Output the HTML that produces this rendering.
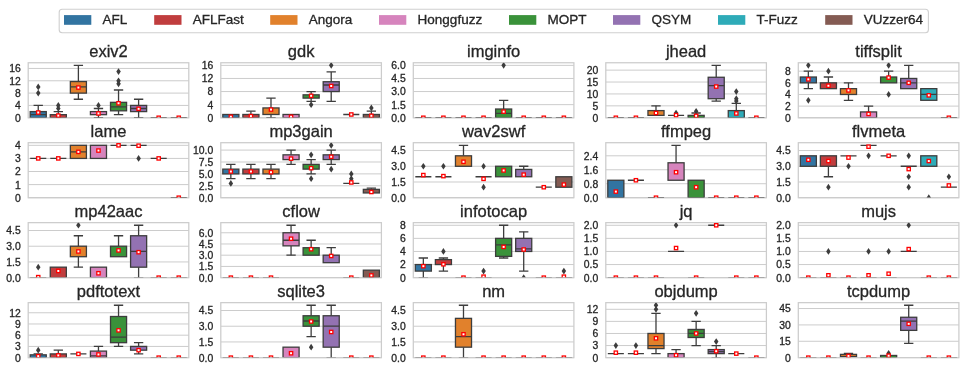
<!DOCTYPE html>
<html><head><meta charset="utf-8"><style>
html,body{margin:0;padding:0;background:#fff;width:969px;height:372px;overflow:hidden}
svg{display:block;will-change:transform;filter:blur(0.3px)}
text{font-family:"Liberation Sans",sans-serif;fill:#262626;stroke:#262626;stroke-width:0.3px}
.tk{font-size:10.4px;text-anchor:end}
.tt{font-size:16.5px;text-anchor:middle}
.lg{font-size:13.5px}
</style></head><body>
<svg width="969" height="372" viewBox="0 0 969 372">
<rect width="969" height="372" fill="#fff"/>
<clipPath id="clip0"><rect x="28.2" y="62.75" width="160.6" height="54.7"/></clipPath>
<line x1="28.2" x2="188.8" y1="117.75" y2="117.75" stroke="#cccccc" stroke-width="1"/>
<text x="20.7" y="121.65" class="tk">0</text>
<line x1="28.2" x2="188.8" y1="105.43" y2="105.43" stroke="#cccccc" stroke-width="1"/>
<text x="20.7" y="109.33" class="tk">4</text>
<line x1="28.2" x2="188.8" y1="93.1" y2="93.1" stroke="#cccccc" stroke-width="1"/>
<text x="20.7" y="97" class="tk">8</text>
<line x1="28.2" x2="188.8" y1="80.78" y2="80.78" stroke="#cccccc" stroke-width="1"/>
<text x="20.7" y="84.68" class="tk">12</text>
<line x1="28.2" x2="188.8" y1="68.45" y2="68.45" stroke="#cccccc" stroke-width="1"/>
<text x="20.7" y="72.35" class="tk">16</text>
<rect x="28.2" y="62.75" width="160.6" height="55" fill="none" stroke="#cccccc" stroke-width="1.25"/>
<text x="108.5" y="56.65" class="tt">exiv2</text>
<g clip-path="url(#clip0)">
<line x1="38.24" x2="38.24" y1="111.59" y2="105.43" stroke="#3d3d3d" stroke-width="1.3"/>
<rect x="30.21" y="111.59" width="16.06" height="6.16" fill="#3274a1" stroke="#3d3d3d" stroke-width="1.3"/>
<line x1="30.21" x2="46.27" y1="114.67" y2="114.67" stroke="#3d3d3d" stroke-width="1.3"/>
<line x1="33.57" x2="42.9" y1="105.42" y2="105.42" stroke="#3d3d3d" stroke-width="1.3"/>
<path d="M38.24 89.75L40.49 93.1L38.24 96.45L35.99 93.1Z" fill="#3d3d3d"/>
<path d="M38.24 83.59L40.49 86.94L38.24 90.29L35.99 86.94Z" fill="#3d3d3d"/>
<rect x="36.59" y="110.86" width="3.3" height="3.3" fill="#fff" stroke="#ff0000" stroke-width="1.3"/>
<line x1="58.31" x2="58.31" y1="114.67" y2="111.59" stroke="#3d3d3d" stroke-width="1.3"/>
<rect x="50.28" y="114.67" width="16.06" height="3.08" fill="#c03d3e" stroke="#3d3d3d" stroke-width="1.3"/>
<line x1="53.65" x2="62.98" y1="111.59" y2="111.59" stroke="#3d3d3d" stroke-width="1.3"/>
<path d="M58.31 105.16L60.56 108.51L58.31 111.86L56.06 108.51Z" fill="#3d3d3d"/>
<path d="M58.31 102.08L60.56 105.43L58.31 108.78L56.06 105.43Z" fill="#3d3d3d"/>
<rect x="56.66" y="113.94" width="3.3" height="3.3" fill="#fff" stroke="#ff0000" stroke-width="1.3"/>
<line x1="78.39" x2="78.39" y1="81.55" y2="65.37" stroke="#3d3d3d" stroke-width="1.3"/>
<line x1="78.39" x2="78.39" y1="93.1" y2="99.26" stroke="#3d3d3d" stroke-width="1.3"/>
<rect x="70.36" y="81.55" width="16.06" height="11.55" fill="#e1812c" stroke="#3d3d3d" stroke-width="1.3"/>
<line x1="70.36" x2="86.42" y1="86.94" y2="86.94" stroke="#3d3d3d" stroke-width="1.3"/>
<line x1="73.72" x2="83.05" y1="65.37" y2="65.37" stroke="#3d3d3d" stroke-width="1.3"/>
<line x1="73.72" x2="83.05" y1="99.26" y2="99.26" stroke="#3d3d3d" stroke-width="1.3"/>
<rect x="76.74" y="85.9" width="3.3" height="3.3" fill="#fff" stroke="#ff0000" stroke-width="1.3"/>
<line x1="98.46" x2="98.46" y1="111.59" y2="108.51" stroke="#3d3d3d" stroke-width="1.3"/>
<line x1="98.46" x2="98.46" y1="114.67" y2="117.75" stroke="#3d3d3d" stroke-width="1.3"/>
<rect x="90.43" y="111.59" width="16.06" height="3.08" fill="#d684bd" stroke="#3d3d3d" stroke-width="1.3"/>
<line x1="93.8" x2="103.13" y1="108.51" y2="108.51" stroke="#3d3d3d" stroke-width="1.3"/>
<line x1="93.8" x2="103.13" y1="117.75" y2="117.75" stroke="#3d3d3d" stroke-width="1.3"/>
<path d="M98.46 102.08L100.71 105.43L98.46 108.78L96.21 105.43Z" fill="#3d3d3d"/>
<rect x="96.81" y="111.79" width="3.3" height="3.3" fill="#fff" stroke="#ff0000" stroke-width="1.3"/>
<line x1="118.54" x2="118.54" y1="102.34" y2="90.02" stroke="#3d3d3d" stroke-width="1.3"/>
<line x1="118.54" x2="118.54" y1="110.82" y2="114.67" stroke="#3d3d3d" stroke-width="1.3"/>
<rect x="110.51" y="102.34" width="16.06" height="8.47" fill="#3a923a" stroke="#3d3d3d" stroke-width="1.3"/>
<line x1="110.51" x2="126.57" y1="106.97" y2="106.97" stroke="#3d3d3d" stroke-width="1.3"/>
<line x1="113.87" x2="123.2" y1="90.02" y2="90.02" stroke="#3d3d3d" stroke-width="1.3"/>
<line x1="113.87" x2="123.2" y1="114.67" y2="114.67" stroke="#3d3d3d" stroke-width="1.3"/>
<path d="M118.54 80.51L120.79 83.86L118.54 87.21L116.29 83.86Z" fill="#3d3d3d"/>
<path d="M118.54 77.43L120.79 80.78L118.54 84.13L116.29 80.78Z" fill="#3d3d3d"/>
<path d="M118.54 68.18L120.79 71.53L118.54 74.88L116.29 71.53Z" fill="#3d3d3d"/>
<rect x="116.89" y="101.62" width="3.3" height="3.3" fill="#fff" stroke="#ff0000" stroke-width="1.3"/>
<line x1="138.61" x2="138.61" y1="105.43" y2="99.26" stroke="#3d3d3d" stroke-width="1.3"/>
<line x1="138.61" x2="138.61" y1="111.59" y2="117.75" stroke="#3d3d3d" stroke-width="1.3"/>
<rect x="130.58" y="105.43" width="16.06" height="6.16" fill="#9372b2" stroke="#3d3d3d" stroke-width="1.3"/>
<line x1="130.58" x2="146.64" y1="108.51" y2="108.51" stroke="#3d3d3d" stroke-width="1.3"/>
<line x1="133.95" x2="143.28" y1="99.26" y2="99.26" stroke="#3d3d3d" stroke-width="1.3"/>
<line x1="133.95" x2="143.28" y1="117.75" y2="117.75" stroke="#3d3d3d" stroke-width="1.3"/>
<rect x="136.96" y="107.16" width="3.3" height="3.3" fill="#fff" stroke="#ff0000" stroke-width="1.3"/>
<line x1="150.66" x2="166.72" y1="117.75" y2="117.75" stroke="#3d3d3d" stroke-width="1.3"/>
<rect x="157.04" y="116.1" width="3.3" height="3.3" fill="#fff" stroke="#ff0000" stroke-width="1.3"/>
<line x1="170.73" x2="186.79" y1="117.75" y2="117.75" stroke="#3d3d3d" stroke-width="1.3"/>
<rect x="177.11" y="116.1" width="3.3" height="3.3" fill="#fff" stroke="#ff0000" stroke-width="1.3"/>
</g>
<clipPath id="clip1"><rect x="220.8" y="62.75" width="160.6" height="54.7"/></clipPath>
<line x1="220.8" x2="381.4" y1="117.75" y2="117.75" stroke="#cccccc" stroke-width="1"/>
<text x="213.3" y="121.65" class="tk">0</text>
<line x1="220.8" x2="381.4" y1="104.65" y2="104.65" stroke="#cccccc" stroke-width="1"/>
<text x="213.3" y="108.55" class="tk">4</text>
<line x1="220.8" x2="381.4" y1="91.56" y2="91.56" stroke="#cccccc" stroke-width="1"/>
<text x="213.3" y="95.46" class="tk">8</text>
<line x1="220.8" x2="381.4" y1="78.46" y2="78.46" stroke="#cccccc" stroke-width="1"/>
<text x="213.3" y="82.36" class="tk">12</text>
<line x1="220.8" x2="381.4" y1="65.37" y2="65.37" stroke="#cccccc" stroke-width="1"/>
<text x="213.3" y="69.27" class="tk">16</text>
<rect x="220.8" y="62.75" width="160.6" height="55" fill="none" stroke="#cccccc" stroke-width="1.25"/>
<text x="301.1" y="56.65" class="tt">gdk</text>
<g clip-path="url(#clip1)">
<rect x="222.81" y="114.48" width="16.06" height="3.27" fill="#3274a1" stroke="#3d3d3d" stroke-width="1.3"/>
<rect x="229.19" y="115.12" width="3.3" height="3.3" fill="#fff" stroke="#ff0000" stroke-width="1.3"/>
<line x1="250.91" x2="250.91" y1="114.48" y2="111.2" stroke="#3d3d3d" stroke-width="1.3"/>
<rect x="242.88" y="114.48" width="16.06" height="3.27" fill="#c03d3e" stroke="#3d3d3d" stroke-width="1.3"/>
<line x1="246.25" x2="255.58" y1="111.2" y2="111.2" stroke="#3d3d3d" stroke-width="1.3"/>
<rect x="249.26" y="114.46" width="3.3" height="3.3" fill="#fff" stroke="#ff0000" stroke-width="1.3"/>
<line x1="270.99" x2="270.99" y1="107.93" y2="98.11" stroke="#3d3d3d" stroke-width="1.3"/>
<line x1="270.99" x2="270.99" y1="114.48" y2="117.75" stroke="#3d3d3d" stroke-width="1.3"/>
<rect x="262.96" y="107.93" width="16.06" height="6.55" fill="#e1812c" stroke="#3d3d3d" stroke-width="1.3"/>
<line x1="266.32" x2="275.65" y1="98.11" y2="98.11" stroke="#3d3d3d" stroke-width="1.3"/>
<line x1="266.32" x2="275.65" y1="117.75" y2="117.75" stroke="#3d3d3d" stroke-width="1.3"/>
<rect x="269.34" y="107.92" width="3.3" height="3.3" fill="#fff" stroke="#ff0000" stroke-width="1.3"/>
<rect x="283.03" y="114.48" width="16.06" height="3.27" fill="#d684bd" stroke="#3d3d3d" stroke-width="1.3"/>
<rect x="289.41" y="115.12" width="3.3" height="3.3" fill="#fff" stroke="#ff0000" stroke-width="1.3"/>
<line x1="311.14" x2="311.14" y1="94.83" y2="91.56" stroke="#3d3d3d" stroke-width="1.3"/>
<line x1="311.14" x2="311.14" y1="98.11" y2="101.38" stroke="#3d3d3d" stroke-width="1.3"/>
<rect x="303.11" y="94.83" width="16.06" height="3.27" fill="#3a923a" stroke="#3d3d3d" stroke-width="1.3"/>
<line x1="306.47" x2="315.8" y1="91.56" y2="91.56" stroke="#3d3d3d" stroke-width="1.3"/>
<line x1="306.47" x2="315.8" y1="101.38" y2="101.38" stroke="#3d3d3d" stroke-width="1.3"/>
<path d="M311.14 101.3L313.39 104.65L311.14 108L308.89 104.65Z" fill="#3d3d3d"/>
<rect x="309.49" y="94.17" width="3.3" height="3.3" fill="#fff" stroke="#ff0000" stroke-width="1.3"/>
<line x1="331.21" x2="331.21" y1="81.74" y2="71.92" stroke="#3d3d3d" stroke-width="1.3"/>
<line x1="331.21" x2="331.21" y1="91.56" y2="101.38" stroke="#3d3d3d" stroke-width="1.3"/>
<rect x="323.18" y="81.74" width="16.06" height="9.82" fill="#9372b2" stroke="#3d3d3d" stroke-width="1.3"/>
<line x1="323.18" x2="339.24" y1="85.01" y2="85.01" stroke="#3d3d3d" stroke-width="1.3"/>
<line x1="326.55" x2="335.88" y1="71.92" y2="71.92" stroke="#3d3d3d" stroke-width="1.3"/>
<line x1="326.55" x2="335.88" y1="101.38" y2="101.38" stroke="#3d3d3d" stroke-width="1.3"/>
<path d="M331.21 62.02L333.46 65.37L331.21 68.72L328.96 65.37Z" fill="#3d3d3d"/>
<rect x="329.56" y="84.34" width="3.3" height="3.3" fill="#fff" stroke="#ff0000" stroke-width="1.3"/>
<line x1="343.26" x2="359.32" y1="114.48" y2="114.48" stroke="#3d3d3d" stroke-width="1.3"/>
<rect x="349.64" y="112.83" width="3.3" height="3.3" fill="#fff" stroke="#ff0000" stroke-width="1.3"/>
<line x1="371.36" x2="371.36" y1="114.48" y2="111.2" stroke="#3d3d3d" stroke-width="1.3"/>
<rect x="363.33" y="114.48" width="16.06" height="3.27" fill="#845b53" stroke="#3d3d3d" stroke-width="1.3"/>
<line x1="366.7" x2="376.03" y1="111.2" y2="111.2" stroke="#3d3d3d" stroke-width="1.3"/>
<path d="M371.36 104.58L373.61 107.93L371.36 111.28L369.11 107.93Z" fill="#3d3d3d"/>
<rect x="369.71" y="114.14" width="3.3" height="3.3" fill="#fff" stroke="#ff0000" stroke-width="1.3"/>
</g>
<clipPath id="clip2"><rect x="413.3" y="62.75" width="160.6" height="54.7"/></clipPath>
<line x1="413.3" x2="573.9" y1="117.75" y2="117.75" stroke="#cccccc" stroke-width="1"/>
<text x="405.8" y="121.65" class="tk">0.0</text>
<line x1="413.3" x2="573.9" y1="104.65" y2="104.65" stroke="#cccccc" stroke-width="1"/>
<text x="405.8" y="108.55" class="tk">1.5</text>
<line x1="413.3" x2="573.9" y1="91.56" y2="91.56" stroke="#cccccc" stroke-width="1"/>
<text x="405.8" y="95.46" class="tk">3.0</text>
<line x1="413.3" x2="573.9" y1="78.46" y2="78.46" stroke="#cccccc" stroke-width="1"/>
<text x="405.8" y="82.36" class="tk">4.5</text>
<line x1="413.3" x2="573.9" y1="65.37" y2="65.37" stroke="#cccccc" stroke-width="1"/>
<text x="405.8" y="69.27" class="tk">6.0</text>
<rect x="413.3" y="62.75" width="160.6" height="55" fill="none" stroke="#cccccc" stroke-width="1.25"/>
<text x="493.6" y="56.65" class="tt">imginfo</text>
<g clip-path="url(#clip2)">
<line x1="415.31" x2="431.37" y1="117.75" y2="117.75" stroke="#3d3d3d" stroke-width="1.3"/>
<rect x="421.69" y="116.1" width="3.3" height="3.3" fill="#fff" stroke="#ff0000" stroke-width="1.3"/>
<line x1="435.38" x2="451.44" y1="117.75" y2="117.75" stroke="#3d3d3d" stroke-width="1.3"/>
<rect x="441.76" y="116.1" width="3.3" height="3.3" fill="#fff" stroke="#ff0000" stroke-width="1.3"/>
<line x1="455.46" x2="471.52" y1="117.75" y2="117.75" stroke="#3d3d3d" stroke-width="1.3"/>
<rect x="461.84" y="116.1" width="3.3" height="3.3" fill="#fff" stroke="#ff0000" stroke-width="1.3"/>
<line x1="475.53" x2="491.59" y1="117.75" y2="117.75" stroke="#3d3d3d" stroke-width="1.3"/>
<rect x="481.91" y="116.1" width="3.3" height="3.3" fill="#fff" stroke="#ff0000" stroke-width="1.3"/>
<line x1="503.64" x2="503.64" y1="109.02" y2="100.29" stroke="#3d3d3d" stroke-width="1.3"/>
<rect x="495.61" y="109.02" width="16.06" height="8.73" fill="#3a923a" stroke="#3d3d3d" stroke-width="1.3"/>
<line x1="495.61" x2="511.67" y1="113.39" y2="113.39" stroke="#3d3d3d" stroke-width="1.3"/>
<line x1="498.97" x2="508.3" y1="100.29" y2="100.29" stroke="#3d3d3d" stroke-width="1.3"/>
<path d="M503.64 62.02L505.89 65.37L503.64 68.72L501.39 65.37Z" fill="#3d3d3d"/>
<rect x="501.99" y="109.99" width="3.3" height="3.3" fill="#fff" stroke="#ff0000" stroke-width="1.3"/>
<line x1="515.68" x2="531.74" y1="117.75" y2="117.75" stroke="#3d3d3d" stroke-width="1.3"/>
<rect x="522.06" y="116.1" width="3.3" height="3.3" fill="#fff" stroke="#ff0000" stroke-width="1.3"/>
<line x1="535.76" x2="551.82" y1="117.75" y2="117.75" stroke="#3d3d3d" stroke-width="1.3"/>
<rect x="542.14" y="116.1" width="3.3" height="3.3" fill="#fff" stroke="#ff0000" stroke-width="1.3"/>
<line x1="555.83" x2="571.89" y1="117.75" y2="117.75" stroke="#3d3d3d" stroke-width="1.3"/>
<rect x="562.21" y="116.1" width="3.3" height="3.3" fill="#fff" stroke="#ff0000" stroke-width="1.3"/>
</g>
<clipPath id="clip3"><rect x="605.8" y="62.75" width="160.6" height="54.7"/></clipPath>
<line x1="605.8" x2="766.4" y1="117.75" y2="117.75" stroke="#cccccc" stroke-width="1"/>
<text x="598.3" y="121.65" class="tk">0</text>
<line x1="605.8" x2="766.4" y1="105.85" y2="105.85" stroke="#cccccc" stroke-width="1"/>
<text x="598.3" y="109.75" class="tk">5</text>
<line x1="605.8" x2="766.4" y1="93.94" y2="93.94" stroke="#cccccc" stroke-width="1"/>
<text x="598.3" y="97.84" class="tk">10</text>
<line x1="605.8" x2="766.4" y1="82.04" y2="82.04" stroke="#cccccc" stroke-width="1"/>
<text x="598.3" y="85.94" class="tk">15</text>
<line x1="605.8" x2="766.4" y1="70.13" y2="70.13" stroke="#cccccc" stroke-width="1"/>
<text x="598.3" y="74.03" class="tk">20</text>
<rect x="605.8" y="62.75" width="160.6" height="55" fill="none" stroke="#cccccc" stroke-width="1.25"/>
<text x="686.1" y="56.65" class="tt">jhead</text>
<g clip-path="url(#clip3)">
<line x1="607.81" x2="623.87" y1="117.75" y2="117.75" stroke="#3d3d3d" stroke-width="1.3"/>
<rect x="614.19" y="116.1" width="3.3" height="3.3" fill="#fff" stroke="#ff0000" stroke-width="1.3"/>
<line x1="627.88" x2="643.94" y1="117.75" y2="117.75" stroke="#3d3d3d" stroke-width="1.3"/>
<rect x="634.26" y="116.1" width="3.3" height="3.3" fill="#fff" stroke="#ff0000" stroke-width="1.3"/>
<line x1="655.99" x2="655.99" y1="110.61" y2="105.85" stroke="#3d3d3d" stroke-width="1.3"/>
<rect x="647.96" y="110.61" width="16.06" height="4.76" fill="#e1812c" stroke="#3d3d3d" stroke-width="1.3"/>
<line x1="651.32" x2="660.65" y1="105.84" y2="105.84" stroke="#3d3d3d" stroke-width="1.3"/>
<rect x="654.34" y="111.34" width="3.3" height="3.3" fill="#fff" stroke="#ff0000" stroke-width="1.3"/>
<line x1="668.03" x2="684.09" y1="115.37" y2="115.37" stroke="#3d3d3d" stroke-width="1.3"/>
<path d="M676.06 109.64L678.31 112.99L676.06 116.34L673.81 112.99Z" fill="#3d3d3d"/>
<rect x="674.41" y="113.5" width="3.3" height="3.3" fill="#fff" stroke="#ff0000" stroke-width="1.3"/>
<line x1="696.14" x2="696.14" y1="115.37" y2="112.99" stroke="#3d3d3d" stroke-width="1.3"/>
<rect x="688.11" y="115.37" width="16.06" height="2.38" fill="#3a923a" stroke="#3d3d3d" stroke-width="1.3"/>
<line x1="691.47" x2="700.8" y1="112.99" y2="112.99" stroke="#3d3d3d" stroke-width="1.3"/>
<path d="M696.14 107.97L698.39 111.32L696.14 114.67L693.89 111.32Z" fill="#3d3d3d"/>
<rect x="694.49" y="114.2" width="3.3" height="3.3" fill="#fff" stroke="#ff0000" stroke-width="1.3"/>
<line x1="716.21" x2="716.21" y1="77.27" y2="65.37" stroke="#3d3d3d" stroke-width="1.3"/>
<line x1="716.21" x2="716.21" y1="98.7" y2="101.08" stroke="#3d3d3d" stroke-width="1.3"/>
<rect x="708.18" y="77.27" width="16.06" height="21.43" fill="#9372b2" stroke="#3d3d3d" stroke-width="1.3"/>
<line x1="708.18" x2="724.24" y1="85.61" y2="85.61" stroke="#3d3d3d" stroke-width="1.3"/>
<line x1="711.55" x2="720.88" y1="65.37" y2="65.37" stroke="#3d3d3d" stroke-width="1.3"/>
<line x1="711.55" x2="720.88" y1="101.08" y2="101.08" stroke="#3d3d3d" stroke-width="1.3"/>
<rect x="714.56" y="84.91" width="3.3" height="3.3" fill="#fff" stroke="#ff0000" stroke-width="1.3"/>
<line x1="736.29" x2="736.29" y1="110.61" y2="103.46" stroke="#3d3d3d" stroke-width="1.3"/>
<rect x="728.26" y="110.61" width="16.06" height="7.14" fill="#2eabb8" stroke="#3d3d3d" stroke-width="1.3"/>
<line x1="731.62" x2="740.95" y1="103.46" y2="103.46" stroke="#3d3d3d" stroke-width="1.3"/>
<path d="M736.29 97.73L738.54 101.08L736.29 104.43L734.04 101.08Z" fill="#3d3d3d"/>
<path d="M736.29 95.35L738.54 98.7L736.29 102.05L734.04 98.7Z" fill="#3d3d3d"/>
<path d="M736.29 88.21L738.54 91.56L736.29 94.91L734.04 91.56Z" fill="#3d3d3d"/>
<rect x="734.64" y="111.81" width="3.3" height="3.3" fill="#fff" stroke="#ff0000" stroke-width="1.3"/>
<line x1="748.33" x2="764.39" y1="117.75" y2="117.75" stroke="#3d3d3d" stroke-width="1.3"/>
<rect x="754.71" y="116.1" width="3.3" height="3.3" fill="#fff" stroke="#ff0000" stroke-width="1.3"/>
</g>
<clipPath id="clip4"><rect x="798.3" y="62.75" width="160.6" height="54.7"/></clipPath>
<line x1="798.3" x2="958.9" y1="117.75" y2="117.75" stroke="#cccccc" stroke-width="1"/>
<text x="790.8" y="121.65" class="tk">0</text>
<line x1="798.3" x2="958.9" y1="106.11" y2="106.11" stroke="#cccccc" stroke-width="1"/>
<text x="790.8" y="110.01" class="tk">2</text>
<line x1="798.3" x2="958.9" y1="94.47" y2="94.47" stroke="#cccccc" stroke-width="1"/>
<text x="790.8" y="98.37" class="tk">4</text>
<line x1="798.3" x2="958.9" y1="82.83" y2="82.83" stroke="#cccccc" stroke-width="1"/>
<text x="790.8" y="86.73" class="tk">6</text>
<line x1="798.3" x2="958.9" y1="71.19" y2="71.19" stroke="#cccccc" stroke-width="1"/>
<text x="790.8" y="75.09" class="tk">8</text>
<rect x="798.3" y="62.75" width="160.6" height="55" fill="none" stroke="#cccccc" stroke-width="1.25"/>
<text x="878.6" y="56.65" class="tt">tiffsplit</text>
<g clip-path="url(#clip4)">
<line x1="808.34" x2="808.34" y1="77.01" y2="71.19" stroke="#3d3d3d" stroke-width="1.3"/>
<line x1="808.34" x2="808.34" y1="82.83" y2="88.65" stroke="#3d3d3d" stroke-width="1.3"/>
<rect x="800.31" y="77.01" width="16.06" height="5.82" fill="#3274a1" stroke="#3d3d3d" stroke-width="1.3"/>
<line x1="803.67" x2="813" y1="71.19" y2="71.19" stroke="#3d3d3d" stroke-width="1.3"/>
<line x1="803.67" x2="813" y1="88.65" y2="88.65" stroke="#3d3d3d" stroke-width="1.3"/>
<path d="M808.34 96.94L810.59 100.29L808.34 103.64L806.09 100.29Z" fill="#3d3d3d"/>
<path d="M808.34 62.02L810.59 65.37L808.34 68.72L806.09 65.37Z" fill="#3d3d3d"/>
<rect x="806.69" y="77.69" width="3.3" height="3.3" fill="#fff" stroke="#ff0000" stroke-width="1.3"/>
<line x1="828.41" x2="828.41" y1="82.83" y2="77.01" stroke="#3d3d3d" stroke-width="1.3"/>
<rect x="820.38" y="82.83" width="16.06" height="5.82" fill="#c03d3e" stroke="#3d3d3d" stroke-width="1.3"/>
<line x1="823.75" x2="833.08" y1="77.01" y2="77.01" stroke="#3d3d3d" stroke-width="1.3"/>
<path d="M828.41 67.84L830.66 71.19L828.41 74.54L826.16 71.19Z" fill="#3d3d3d"/>
<rect x="826.76" y="84.09" width="3.3" height="3.3" fill="#fff" stroke="#ff0000" stroke-width="1.3"/>
<line x1="848.49" x2="848.49" y1="88.65" y2="82.83" stroke="#3d3d3d" stroke-width="1.3"/>
<line x1="848.49" x2="848.49" y1="94.47" y2="100.29" stroke="#3d3d3d" stroke-width="1.3"/>
<rect x="840.46" y="88.65" width="16.06" height="5.82" fill="#e1812c" stroke="#3d3d3d" stroke-width="1.3"/>
<line x1="843.82" x2="853.15" y1="82.83" y2="82.83" stroke="#3d3d3d" stroke-width="1.3"/>
<line x1="843.82" x2="853.15" y1="100.29" y2="100.29" stroke="#3d3d3d" stroke-width="1.3"/>
<rect x="846.84" y="88.75" width="3.3" height="3.3" fill="#fff" stroke="#ff0000" stroke-width="1.3"/>
<line x1="868.56" x2="868.56" y1="111.93" y2="106.11" stroke="#3d3d3d" stroke-width="1.3"/>
<rect x="860.53" y="111.93" width="16.06" height="5.82" fill="#d684bd" stroke="#3d3d3d" stroke-width="1.3"/>
<line x1="863.9" x2="873.23" y1="106.11" y2="106.11" stroke="#3d3d3d" stroke-width="1.3"/>
<rect x="866.91" y="112.26" width="3.3" height="3.3" fill="#fff" stroke="#ff0000" stroke-width="1.3"/>
<line x1="888.64" x2="888.64" y1="77.01" y2="71.19" stroke="#3d3d3d" stroke-width="1.3"/>
<rect x="880.61" y="77.01" width="16.06" height="5.82" fill="#3a923a" stroke="#3d3d3d" stroke-width="1.3"/>
<line x1="883.97" x2="893.3" y1="71.19" y2="71.19" stroke="#3d3d3d" stroke-width="1.3"/>
<path d="M888.64 91.12L890.89 94.47L888.64 97.82L886.39 94.47Z" fill="#3d3d3d"/>
<path d="M888.64 62.02L890.89 65.37L888.64 68.72L886.39 65.37Z" fill="#3d3d3d"/>
<rect x="886.99" y="75.94" width="3.3" height="3.3" fill="#fff" stroke="#ff0000" stroke-width="1.3"/>
<line x1="908.71" x2="908.71" y1="78.46" y2="65.37" stroke="#3d3d3d" stroke-width="1.3"/>
<rect x="900.68" y="78.46" width="16.06" height="10.19" fill="#9372b2" stroke="#3d3d3d" stroke-width="1.3"/>
<line x1="900.68" x2="916.74" y1="82.83" y2="82.83" stroke="#3d3d3d" stroke-width="1.3"/>
<line x1="904.05" x2="913.38" y1="65.37" y2="65.37" stroke="#3d3d3d" stroke-width="1.3"/>
<rect x="907.06" y="81.18" width="3.3" height="3.3" fill="#fff" stroke="#ff0000" stroke-width="1.3"/>
<rect x="920.76" y="88.65" width="16.06" height="11.64" fill="#2eabb8" stroke="#3d3d3d" stroke-width="1.3"/>
<line x1="920.76" x2="936.82" y1="94.47" y2="94.47" stroke="#3d3d3d" stroke-width="1.3"/>
<rect x="927.14" y="93.69" width="3.3" height="3.3" fill="#fff" stroke="#ff0000" stroke-width="1.3"/>
<line x1="940.83" x2="956.89" y1="117.75" y2="117.75" stroke="#3d3d3d" stroke-width="1.3"/>
<rect x="947.21" y="116.1" width="3.3" height="3.3" fill="#fff" stroke="#ff0000" stroke-width="1.3"/>
</g>
<clipPath id="clip5"><rect x="28.2" y="142.7" width="160.6" height="54.7"/></clipPath>
<line x1="28.2" x2="188.8" y1="197.7" y2="197.7" stroke="#cccccc" stroke-width="1"/>
<text x="20.7" y="201.6" class="tk">0</text>
<line x1="28.2" x2="188.8" y1="184.6" y2="184.6" stroke="#cccccc" stroke-width="1"/>
<text x="20.7" y="188.5" class="tk">1</text>
<line x1="28.2" x2="188.8" y1="171.51" y2="171.51" stroke="#cccccc" stroke-width="1"/>
<text x="20.7" y="175.41" class="tk">2</text>
<line x1="28.2" x2="188.8" y1="158.41" y2="158.41" stroke="#cccccc" stroke-width="1"/>
<text x="20.7" y="162.31" class="tk">3</text>
<line x1="28.2" x2="188.8" y1="145.32" y2="145.32" stroke="#cccccc" stroke-width="1"/>
<text x="20.7" y="149.22" class="tk">4</text>
<rect x="28.2" y="142.7" width="160.6" height="55" fill="none" stroke="#cccccc" stroke-width="1.25"/>
<text x="108.5" y="136.6" class="tt">lame</text>
<g clip-path="url(#clip5)">
<line x1="30.21" x2="46.27" y1="158.41" y2="158.41" stroke="#3d3d3d" stroke-width="1.3"/>
<rect x="36.59" y="156.76" width="3.3" height="3.3" fill="#fff" stroke="#ff0000" stroke-width="1.3"/>
<line x1="50.28" x2="66.34" y1="158.41" y2="158.41" stroke="#3d3d3d" stroke-width="1.3"/>
<rect x="56.66" y="156.76" width="3.3" height="3.3" fill="#fff" stroke="#ff0000" stroke-width="1.3"/>
<rect x="70.36" y="145.32" width="16.06" height="13.1" fill="#e1812c" stroke="#3d3d3d" stroke-width="1.3"/>
<line x1="70.36" x2="86.42" y1="151.87" y2="151.87" stroke="#3d3d3d" stroke-width="1.3"/>
<rect x="76.74" y="150.22" width="3.3" height="3.3" fill="#fff" stroke="#ff0000" stroke-width="1.3"/>
<rect x="90.43" y="145.32" width="16.06" height="13.1" fill="#d684bd" stroke="#3d3d3d" stroke-width="1.3"/>
<rect x="96.81" y="148.91" width="3.3" height="3.3" fill="#fff" stroke="#ff0000" stroke-width="1.3"/>
<line x1="110.51" x2="126.57" y1="145.32" y2="145.32" stroke="#3d3d3d" stroke-width="1.3"/>
<rect x="116.89" y="143.67" width="3.3" height="3.3" fill="#fff" stroke="#ff0000" stroke-width="1.3"/>
<line x1="130.58" x2="146.64" y1="145.32" y2="145.32" stroke="#3d3d3d" stroke-width="1.3"/>
<path d="M138.61 155.06L140.86 158.41L138.61 161.76L136.36 158.41Z" fill="#3d3d3d"/>
<rect x="136.96" y="144.06" width="3.3" height="3.3" fill="#fff" stroke="#ff0000" stroke-width="1.3"/>
<line x1="150.66" x2="166.72" y1="158.41" y2="158.41" stroke="#3d3d3d" stroke-width="1.3"/>
<rect x="157.04" y="156.76" width="3.3" height="3.3" fill="#fff" stroke="#ff0000" stroke-width="1.3"/>
<line x1="170.73" x2="186.79" y1="197.7" y2="197.7" stroke="#3d3d3d" stroke-width="1.3"/>
<rect x="177.11" y="196.05" width="3.3" height="3.3" fill="#fff" stroke="#ff0000" stroke-width="1.3"/>
</g>
<clipPath id="clip6"><rect x="220.8" y="142.7" width="160.6" height="54.7"/></clipPath>
<line x1="220.8" x2="381.4" y1="197.7" y2="197.7" stroke="#cccccc" stroke-width="1"/>
<text x="213.3" y="201.6" class="tk">0.0</text>
<line x1="220.8" x2="381.4" y1="185.8" y2="185.8" stroke="#cccccc" stroke-width="1"/>
<text x="213.3" y="189.7" class="tk">2.5</text>
<line x1="220.8" x2="381.4" y1="173.89" y2="173.89" stroke="#cccccc" stroke-width="1"/>
<text x="213.3" y="177.79" class="tk">5.0</text>
<line x1="220.8" x2="381.4" y1="161.99" y2="161.99" stroke="#cccccc" stroke-width="1"/>
<text x="213.3" y="165.89" class="tk">7.5</text>
<line x1="220.8" x2="381.4" y1="150.08" y2="150.08" stroke="#cccccc" stroke-width="1"/>
<text x="213.3" y="153.98" class="tk">10.0</text>
<rect x="220.8" y="142.7" width="160.6" height="55" fill="none" stroke="#cccccc" stroke-width="1.25"/>
<text x="301.1" y="136.6" class="tt">mp3gain</text>
<g clip-path="url(#clip6)">
<line x1="230.84" x2="230.84" y1="169.13" y2="164.37" stroke="#3d3d3d" stroke-width="1.3"/>
<line x1="230.84" x2="230.84" y1="173.89" y2="178.65" stroke="#3d3d3d" stroke-width="1.3"/>
<rect x="222.81" y="169.13" width="16.06" height="4.76" fill="#3274a1" stroke="#3d3d3d" stroke-width="1.3"/>
<line x1="226.17" x2="235.5" y1="164.37" y2="164.37" stroke="#3d3d3d" stroke-width="1.3"/>
<line x1="226.17" x2="235.5" y1="178.65" y2="178.65" stroke="#3d3d3d" stroke-width="1.3"/>
<path d="M230.84 180.06L233.09 183.41L230.84 186.76L228.59 183.41Z" fill="#3d3d3d"/>
<rect x="229.19" y="169.86" width="3.3" height="3.3" fill="#fff" stroke="#ff0000" stroke-width="1.3"/>
<line x1="250.91" x2="250.91" y1="169.13" y2="164.37" stroke="#3d3d3d" stroke-width="1.3"/>
<line x1="250.91" x2="250.91" y1="173.89" y2="178.65" stroke="#3d3d3d" stroke-width="1.3"/>
<rect x="242.88" y="169.13" width="16.06" height="4.76" fill="#c03d3e" stroke="#3d3d3d" stroke-width="1.3"/>
<line x1="246.25" x2="255.58" y1="164.37" y2="164.37" stroke="#3d3d3d" stroke-width="1.3"/>
<line x1="246.25" x2="255.58" y1="178.65" y2="178.65" stroke="#3d3d3d" stroke-width="1.3"/>
<rect x="249.26" y="169.86" width="3.3" height="3.3" fill="#fff" stroke="#ff0000" stroke-width="1.3"/>
<line x1="270.99" x2="270.99" y1="169.13" y2="164.37" stroke="#3d3d3d" stroke-width="1.3"/>
<line x1="270.99" x2="270.99" y1="173.89" y2="178.65" stroke="#3d3d3d" stroke-width="1.3"/>
<rect x="262.96" y="169.13" width="16.06" height="4.76" fill="#e1812c" stroke="#3d3d3d" stroke-width="1.3"/>
<line x1="266.32" x2="275.65" y1="164.37" y2="164.37" stroke="#3d3d3d" stroke-width="1.3"/>
<line x1="266.32" x2="275.65" y1="178.65" y2="178.65" stroke="#3d3d3d" stroke-width="1.3"/>
<rect x="269.34" y="170.57" width="3.3" height="3.3" fill="#fff" stroke="#ff0000" stroke-width="1.3"/>
<line x1="291.06" x2="291.06" y1="154.84" y2="150.08" stroke="#3d3d3d" stroke-width="1.3"/>
<line x1="291.06" x2="291.06" y1="159.6" y2="164.37" stroke="#3d3d3d" stroke-width="1.3"/>
<rect x="283.03" y="154.84" width="16.06" height="4.76" fill="#d684bd" stroke="#3d3d3d" stroke-width="1.3"/>
<line x1="286.4" x2="295.73" y1="150.08" y2="150.08" stroke="#3d3d3d" stroke-width="1.3"/>
<line x1="286.4" x2="295.73" y1="164.37" y2="164.37" stroke="#3d3d3d" stroke-width="1.3"/>
<rect x="289.41" y="157" width="3.3" height="3.3" fill="#fff" stroke="#ff0000" stroke-width="1.3"/>
<line x1="311.14" x2="311.14" y1="164.37" y2="159.6" stroke="#3d3d3d" stroke-width="1.3"/>
<line x1="311.14" x2="311.14" y1="169.13" y2="173.89" stroke="#3d3d3d" stroke-width="1.3"/>
<rect x="303.11" y="164.37" width="16.06" height="4.76" fill="#3a923a" stroke="#3d3d3d" stroke-width="1.3"/>
<line x1="306.47" x2="315.8" y1="159.6" y2="159.6" stroke="#3d3d3d" stroke-width="1.3"/>
<line x1="306.47" x2="315.8" y1="173.89" y2="173.89" stroke="#3d3d3d" stroke-width="1.3"/>
<path d="M311.14 175.3L313.39 178.65L311.14 182L308.89 178.65Z" fill="#3d3d3d"/>
<path d="M311.14 151.49L313.39 154.84L311.14 158.19L308.89 154.84Z" fill="#3d3d3d"/>
<rect x="309.49" y="166.53" width="3.3" height="3.3" fill="#fff" stroke="#ff0000" stroke-width="1.3"/>
<line x1="331.21" x2="331.21" y1="154.84" y2="150.08" stroke="#3d3d3d" stroke-width="1.3"/>
<line x1="331.21" x2="331.21" y1="159.6" y2="164.37" stroke="#3d3d3d" stroke-width="1.3"/>
<rect x="323.18" y="154.84" width="16.06" height="4.76" fill="#9372b2" stroke="#3d3d3d" stroke-width="1.3"/>
<line x1="326.55" x2="335.88" y1="150.08" y2="150.08" stroke="#3d3d3d" stroke-width="1.3"/>
<line x1="326.55" x2="335.88" y1="164.37" y2="164.37" stroke="#3d3d3d" stroke-width="1.3"/>
<path d="M331.21 165.78L333.46 169.13L331.21 172.48L328.96 169.13Z" fill="#3d3d3d"/>
<path d="M331.21 141.97L333.46 145.32L331.21 148.67L328.96 145.32Z" fill="#3d3d3d"/>
<rect x="329.56" y="155.1" width="3.3" height="3.3" fill="#fff" stroke="#ff0000" stroke-width="1.3"/>
<line x1="343.26" x2="359.32" y1="183.41" y2="183.41" stroke="#3d3d3d" stroke-width="1.3"/>
<path d="M351.29 175.3L353.54 178.65L351.29 182L349.04 178.65Z" fill="#3d3d3d"/>
<path d="M351.29 170.54L353.54 173.89L351.29 177.24L349.04 173.89Z" fill="#3d3d3d"/>
<rect x="349.64" y="180.81" width="3.3" height="3.3" fill="#fff" stroke="#ff0000" stroke-width="1.3"/>
<line x1="371.36" x2="371.36" y1="189.37" y2="188.18" stroke="#3d3d3d" stroke-width="1.3"/>
<rect x="363.33" y="189.37" width="16.06" height="3.57" fill="#845b53" stroke="#3d3d3d" stroke-width="1.3"/>
<line x1="366.7" x2="376.03" y1="188.18" y2="188.18" stroke="#3d3d3d" stroke-width="1.3"/>
<rect x="369.71" y="190.34" width="3.3" height="3.3" fill="#fff" stroke="#ff0000" stroke-width="1.3"/>
</g>
<clipPath id="clip7"><rect x="413.3" y="142.7" width="160.6" height="54.7"/></clipPath>
<line x1="413.3" x2="573.9" y1="197.7" y2="197.7" stroke="#cccccc" stroke-width="1"/>
<text x="405.8" y="201.6" class="tk">0.0</text>
<line x1="413.3" x2="573.9" y1="181.99" y2="181.99" stroke="#cccccc" stroke-width="1"/>
<text x="405.8" y="185.89" class="tk">1.5</text>
<line x1="413.3" x2="573.9" y1="166.27" y2="166.27" stroke="#cccccc" stroke-width="1"/>
<text x="405.8" y="170.17" class="tk">3.0</text>
<line x1="413.3" x2="573.9" y1="150.56" y2="150.56" stroke="#cccccc" stroke-width="1"/>
<text x="405.8" y="154.46" class="tk">4.5</text>
<rect x="413.3" y="142.7" width="160.6" height="55" fill="none" stroke="#cccccc" stroke-width="1.25"/>
<text x="493.6" y="136.6" class="tt">wav2swf</text>
<g clip-path="url(#clip7)">
<line x1="415.31" x2="431.37" y1="176.75" y2="176.75" stroke="#3d3d3d" stroke-width="1.3"/>
<path d="M423.34 162.92L425.59 166.27L423.34 169.62L421.09 166.27Z" fill="#3d3d3d"/>
<rect x="421.69" y="173.42" width="3.3" height="3.3" fill="#fff" stroke="#ff0000" stroke-width="1.3"/>
<line x1="435.38" x2="451.44" y1="176.75" y2="176.75" stroke="#3d3d3d" stroke-width="1.3"/>
<path d="M443.41 162.92L445.66 166.27L443.41 169.62L441.16 166.27Z" fill="#3d3d3d"/>
<rect x="441.76" y="174.47" width="3.3" height="3.3" fill="#fff" stroke="#ff0000" stroke-width="1.3"/>
<line x1="463.49" x2="463.49" y1="155.8" y2="145.32" stroke="#3d3d3d" stroke-width="1.3"/>
<rect x="455.46" y="155.8" width="16.06" height="10.48" fill="#e1812c" stroke="#3d3d3d" stroke-width="1.3"/>
<line x1="458.82" x2="468.15" y1="145.32" y2="145.32" stroke="#3d3d3d" stroke-width="1.3"/>
<rect x="461.84" y="160.12" width="3.3" height="3.3" fill="#fff" stroke="#ff0000" stroke-width="1.3"/>
<line x1="475.53" x2="491.59" y1="176.75" y2="176.75" stroke="#3d3d3d" stroke-width="1.3"/>
<path d="M483.56 183.87L485.81 187.22L483.56 190.57L481.31 187.22Z" fill="#3d3d3d"/>
<path d="M483.56 162.92L485.81 166.27L483.56 169.62L481.31 166.27Z" fill="#3d3d3d"/>
<rect x="481.91" y="177.19" width="3.3" height="3.3" fill="#fff" stroke="#ff0000" stroke-width="1.3"/>
<rect x="495.61" y="166.27" width="16.06" height="10.48" fill="#3a923a" stroke="#3d3d3d" stroke-width="1.3"/>
<rect x="501.99" y="168.81" width="3.3" height="3.3" fill="#fff" stroke="#ff0000" stroke-width="1.3"/>
<line x1="523.71" x2="523.71" y1="169.41" y2="166.27" stroke="#3d3d3d" stroke-width="1.3"/>
<rect x="515.68" y="169.41" width="16.06" height="7.33" fill="#9372b2" stroke="#3d3d3d" stroke-width="1.3"/>
<line x1="519.05" x2="528.38" y1="166.27" y2="166.27" stroke="#3d3d3d" stroke-width="1.3"/>
<rect x="522.06" y="173" width="3.3" height="3.3" fill="#fff" stroke="#ff0000" stroke-width="1.3"/>
<line x1="535.76" x2="551.82" y1="187.22" y2="187.22" stroke="#3d3d3d" stroke-width="1.3"/>
<rect x="542.14" y="185.57" width="3.3" height="3.3" fill="#fff" stroke="#ff0000" stroke-width="1.3"/>
<rect x="555.83" y="176.75" width="16.06" height="10.48" fill="#845b53" stroke="#3d3d3d" stroke-width="1.3"/>
<rect x="562.21" y="182.95" width="3.3" height="3.3" fill="#fff" stroke="#ff0000" stroke-width="1.3"/>
</g>
<clipPath id="clip8"><rect x="605.8" y="142.7" width="160.6" height="54.7"/></clipPath>
<line x1="605.8" x2="766.4" y1="197.7" y2="197.7" stroke="#cccccc" stroke-width="1"/>
<text x="598.3" y="201.6" class="tk">0.0</text>
<line x1="605.8" x2="766.4" y1="183.73" y2="183.73" stroke="#cccccc" stroke-width="1"/>
<text x="598.3" y="187.63" class="tk">0.8</text>
<line x1="605.8" x2="766.4" y1="169.76" y2="169.76" stroke="#cccccc" stroke-width="1"/>
<text x="598.3" y="173.66" class="tk">1.6</text>
<line x1="605.8" x2="766.4" y1="155.8" y2="155.8" stroke="#cccccc" stroke-width="1"/>
<text x="598.3" y="159.7" class="tk">2.4</text>
<rect x="605.8" y="142.7" width="160.6" height="55" fill="none" stroke="#cccccc" stroke-width="1.25"/>
<text x="686.1" y="136.6" class="tt">ffmpeg</text>
<g clip-path="url(#clip8)">
<rect x="607.81" y="180.24" width="16.06" height="17.46" fill="#3274a1" stroke="#3d3d3d" stroke-width="1.3"/>
<rect x="614.19" y="189.94" width="3.3" height="3.3" fill="#fff" stroke="#ff0000" stroke-width="1.3"/>
<line x1="627.88" x2="643.94" y1="180.24" y2="180.24" stroke="#3d3d3d" stroke-width="1.3"/>
<rect x="634.26" y="178.59" width="3.3" height="3.3" fill="#fff" stroke="#ff0000" stroke-width="1.3"/>
<line x1="647.96" x2="664.02" y1="197.7" y2="197.7" stroke="#3d3d3d" stroke-width="1.3"/>
<rect x="654.34" y="196.05" width="3.3" height="3.3" fill="#fff" stroke="#ff0000" stroke-width="1.3"/>
<line x1="676.06" x2="676.06" y1="162.78" y2="145.32" stroke="#3d3d3d" stroke-width="1.3"/>
<rect x="668.03" y="162.78" width="16.06" height="17.46" fill="#d684bd" stroke="#3d3d3d" stroke-width="1.3"/>
<line x1="671.4" x2="680.73" y1="145.32" y2="145.32" stroke="#3d3d3d" stroke-width="1.3"/>
<rect x="674.41" y="170.56" width="3.3" height="3.3" fill="#fff" stroke="#ff0000" stroke-width="1.3"/>
<rect x="688.11" y="180.24" width="16.06" height="17.46" fill="#3a923a" stroke="#3d3d3d" stroke-width="1.3"/>
<rect x="694.49" y="185.57" width="3.3" height="3.3" fill="#fff" stroke="#ff0000" stroke-width="1.3"/>
<line x1="708.18" x2="724.24" y1="197.7" y2="197.7" stroke="#3d3d3d" stroke-width="1.3"/>
<rect x="714.56" y="196.05" width="3.3" height="3.3" fill="#fff" stroke="#ff0000" stroke-width="1.3"/>
<line x1="728.26" x2="744.32" y1="197.7" y2="197.7" stroke="#3d3d3d" stroke-width="1.3"/>
<rect x="734.64" y="196.05" width="3.3" height="3.3" fill="#fff" stroke="#ff0000" stroke-width="1.3"/>
<line x1="748.33" x2="764.39" y1="197.7" y2="197.7" stroke="#3d3d3d" stroke-width="1.3"/>
<rect x="754.71" y="196.05" width="3.3" height="3.3" fill="#fff" stroke="#ff0000" stroke-width="1.3"/>
</g>
<clipPath id="clip9"><rect x="798.3" y="142.7" width="160.6" height="54.7"/></clipPath>
<line x1="798.3" x2="958.9" y1="197.7" y2="197.7" stroke="#cccccc" stroke-width="1"/>
<text x="790.8" y="201.6" class="tk">0.0</text>
<line x1="798.3" x2="958.9" y1="181.99" y2="181.99" stroke="#cccccc" stroke-width="1"/>
<text x="790.8" y="185.89" class="tk">1.5</text>
<line x1="798.3" x2="958.9" y1="166.27" y2="166.27" stroke="#cccccc" stroke-width="1"/>
<text x="790.8" y="170.17" class="tk">3.0</text>
<line x1="798.3" x2="958.9" y1="150.56" y2="150.56" stroke="#cccccc" stroke-width="1"/>
<text x="790.8" y="154.46" class="tk">4.5</text>
<rect x="798.3" y="142.7" width="160.6" height="55" fill="none" stroke="#cccccc" stroke-width="1.25"/>
<text x="878.6" y="136.6" class="tt">flvmeta</text>
<g clip-path="url(#clip9)">
<rect x="800.31" y="155.8" width="16.06" height="10.48" fill="#3274a1" stroke="#3d3d3d" stroke-width="1.3"/>
<rect x="806.69" y="158.13" width="3.3" height="3.3" fill="#fff" stroke="#ff0000" stroke-width="1.3"/>
<line x1="828.41" x2="828.41" y1="166.27" y2="176.75" stroke="#3d3d3d" stroke-width="1.3"/>
<rect x="820.38" y="155.8" width="16.06" height="10.48" fill="#c03d3e" stroke="#3d3d3d" stroke-width="1.3"/>
<line x1="823.75" x2="833.08" y1="176.75" y2="176.75" stroke="#3d3d3d" stroke-width="1.3"/>
<path d="M828.41 183.87L830.66 187.22L828.41 190.57L826.16 187.22Z" fill="#3d3d3d"/>
<rect x="826.76" y="159.38" width="3.3" height="3.3" fill="#fff" stroke="#ff0000" stroke-width="1.3"/>
<line x1="840.46" x2="856.52" y1="155.79" y2="155.79" stroke="#3d3d3d" stroke-width="1.3"/>
<path d="M848.49 162.92L850.74 166.27L848.49 169.62L846.24 166.27Z" fill="#3d3d3d"/>
<rect x="846.84" y="155.93" width="3.3" height="3.3" fill="#fff" stroke="#ff0000" stroke-width="1.3"/>
<line x1="860.53" x2="876.59" y1="145.32" y2="145.32" stroke="#3d3d3d" stroke-width="1.3"/>
<path d="M868.56 152.45L870.81 155.8L868.56 159.15L866.31 155.8Z" fill="#3d3d3d"/>
<rect x="866.91" y="145.03" width="3.3" height="3.3" fill="#fff" stroke="#ff0000" stroke-width="1.3"/>
<line x1="880.61" x2="896.67" y1="155.79" y2="155.79" stroke="#3d3d3d" stroke-width="1.3"/>
<rect x="886.99" y="154.15" width="3.3" height="3.3" fill="#fff" stroke="#ff0000" stroke-width="1.3"/>
<line x1="900.68" x2="916.74" y1="166.27" y2="166.27" stroke="#3d3d3d" stroke-width="1.3"/>
<path d="M908.71 183.87L910.96 187.22L908.71 190.57L906.46 187.22Z" fill="#3d3d3d"/>
<path d="M908.71 173.4L910.96 176.75L908.71 180.1L906.46 176.75Z" fill="#3d3d3d"/>
<path d="M908.71 152.45L910.96 155.8L908.71 159.15L906.46 155.8Z" fill="#3d3d3d"/>
<rect x="907.06" y="167.45" width="3.3" height="3.3" fill="#fff" stroke="#ff0000" stroke-width="1.3"/>
<rect x="920.76" y="155.8" width="16.06" height="10.48" fill="#2eabb8" stroke="#3d3d3d" stroke-width="1.3"/>
<path d="M928.79 194.35L931.04 197.7L928.79 201.05L926.54 197.7Z" fill="#3d3d3d"/>
<rect x="927.14" y="159.38" width="3.3" height="3.3" fill="#fff" stroke="#ff0000" stroke-width="1.3"/>
<line x1="940.83" x2="956.89" y1="187.22" y2="187.22" stroke="#3d3d3d" stroke-width="1.3"/>
<path d="M948.86 173.4L951.11 176.75L948.86 180.1L946.61 176.75Z" fill="#3d3d3d"/>
<rect x="947.21" y="183.79" width="3.3" height="3.3" fill="#fff" stroke="#ff0000" stroke-width="1.3"/>
</g>
<clipPath id="clip10"><rect x="28.2" y="222.65" width="160.6" height="54.7"/></clipPath>
<line x1="28.2" x2="188.8" y1="277.65" y2="277.65" stroke="#cccccc" stroke-width="1"/>
<text x="20.7" y="281.55" class="tk">0.0</text>
<line x1="28.2" x2="188.8" y1="261.94" y2="261.94" stroke="#cccccc" stroke-width="1"/>
<text x="20.7" y="265.84" class="tk">1.5</text>
<line x1="28.2" x2="188.8" y1="246.22" y2="246.22" stroke="#cccccc" stroke-width="1"/>
<text x="20.7" y="250.12" class="tk">3.0</text>
<line x1="28.2" x2="188.8" y1="230.51" y2="230.51" stroke="#cccccc" stroke-width="1"/>
<text x="20.7" y="234.41" class="tk">4.5</text>
<rect x="28.2" y="222.65" width="160.6" height="55" fill="none" stroke="#cccccc" stroke-width="1.25"/>
<text x="108.5" y="216.55" class="tt">mp42aac</text>
<g clip-path="url(#clip10)">
<line x1="30.21" x2="46.27" y1="277.65" y2="277.65" stroke="#3d3d3d" stroke-width="1.3"/>
<path d="M38.24 263.82L40.49 267.17L38.24 270.52L35.99 267.17Z" fill="#3d3d3d"/>
<rect x="36.59" y="275.48" width="3.3" height="3.3" fill="#fff" stroke="#ff0000" stroke-width="1.3"/>
<rect x="50.28" y="267.17" width="16.06" height="10.48" fill="#c03d3e" stroke="#3d3d3d" stroke-width="1.3"/>
<rect x="56.66" y="269.3" width="3.3" height="3.3" fill="#fff" stroke="#ff0000" stroke-width="1.3"/>
<line x1="78.39" x2="78.39" y1="246.22" y2="235.75" stroke="#3d3d3d" stroke-width="1.3"/>
<line x1="78.39" x2="78.39" y1="256.7" y2="267.17" stroke="#3d3d3d" stroke-width="1.3"/>
<rect x="70.36" y="246.22" width="16.06" height="10.48" fill="#e1812c" stroke="#3d3d3d" stroke-width="1.3"/>
<line x1="73.72" x2="83.05" y1="235.75" y2="235.75" stroke="#3d3d3d" stroke-width="1.3"/>
<line x1="73.72" x2="83.05" y1="267.17" y2="267.17" stroke="#3d3d3d" stroke-width="1.3"/>
<path d="M78.39 221.92L80.64 225.27L78.39 228.62L76.14 225.27Z" fill="#3d3d3d"/>
<rect x="76.74" y="249.81" width="3.3" height="3.3" fill="#fff" stroke="#ff0000" stroke-width="1.3"/>
<rect x="90.43" y="267.17" width="16.06" height="10.48" fill="#d684bd" stroke="#3d3d3d" stroke-width="1.3"/>
<rect x="96.81" y="271.6" width="3.3" height="3.3" fill="#fff" stroke="#ff0000" stroke-width="1.3"/>
<line x1="118.54" x2="118.54" y1="246.22" y2="235.75" stroke="#3d3d3d" stroke-width="1.3"/>
<rect x="110.51" y="246.22" width="16.06" height="10.48" fill="#3a923a" stroke="#3d3d3d" stroke-width="1.3"/>
<line x1="113.87" x2="123.2" y1="235.75" y2="235.75" stroke="#3d3d3d" stroke-width="1.3"/>
<rect x="116.89" y="248.76" width="3.3" height="3.3" fill="#fff" stroke="#ff0000" stroke-width="1.3"/>
<line x1="138.61" x2="138.61" y1="235.75" y2="225.27" stroke="#3d3d3d" stroke-width="1.3"/>
<line x1="138.61" x2="138.61" y1="267.17" y2="277.65" stroke="#3d3d3d" stroke-width="1.3"/>
<rect x="130.58" y="235.75" width="16.06" height="31.43" fill="#9372b2" stroke="#3d3d3d" stroke-width="1.3"/>
<line x1="130.58" x2="146.64" y1="251.46" y2="251.46" stroke="#3d3d3d" stroke-width="1.3"/>
<line x1="133.95" x2="143.28" y1="225.27" y2="225.27" stroke="#3d3d3d" stroke-width="1.3"/>
<line x1="133.95" x2="143.28" y1="277.65" y2="277.65" stroke="#3d3d3d" stroke-width="1.3"/>
<rect x="136.96" y="250.54" width="3.3" height="3.3" fill="#fff" stroke="#ff0000" stroke-width="1.3"/>
<line x1="150.66" x2="166.72" y1="277.65" y2="277.65" stroke="#3d3d3d" stroke-width="1.3"/>
<rect x="157.04" y="276" width="3.3" height="3.3" fill="#fff" stroke="#ff0000" stroke-width="1.3"/>
<line x1="170.73" x2="186.79" y1="277.65" y2="277.65" stroke="#3d3d3d" stroke-width="1.3"/>
<rect x="177.11" y="276" width="3.3" height="3.3" fill="#fff" stroke="#ff0000" stroke-width="1.3"/>
</g>
<clipPath id="clip11"><rect x="220.8" y="222.65" width="160.6" height="54.7"/></clipPath>
<line x1="220.8" x2="381.4" y1="277.65" y2="277.65" stroke="#cccccc" stroke-width="1"/>
<text x="213.3" y="281.55" class="tk">0.0</text>
<line x1="220.8" x2="381.4" y1="266.43" y2="266.43" stroke="#cccccc" stroke-width="1"/>
<text x="213.3" y="270.33" class="tk">1.5</text>
<line x1="220.8" x2="381.4" y1="255.2" y2="255.2" stroke="#cccccc" stroke-width="1"/>
<text x="213.3" y="259.1" class="tk">3.0</text>
<line x1="220.8" x2="381.4" y1="243.98" y2="243.98" stroke="#cccccc" stroke-width="1"/>
<text x="213.3" y="247.88" class="tk">4.5</text>
<line x1="220.8" x2="381.4" y1="232.75" y2="232.75" stroke="#cccccc" stroke-width="1"/>
<text x="213.3" y="236.65" class="tk">6.0</text>
<rect x="220.8" y="222.65" width="160.6" height="55" fill="none" stroke="#cccccc" stroke-width="1.25"/>
<text x="301.1" y="216.55" class="tt">cflow</text>
<g clip-path="url(#clip11)">
<line x1="222.81" x2="238.87" y1="277.65" y2="277.65" stroke="#3d3d3d" stroke-width="1.3"/>
<rect x="229.19" y="276" width="3.3" height="3.3" fill="#fff" stroke="#ff0000" stroke-width="1.3"/>
<line x1="242.88" x2="258.94" y1="277.65" y2="277.65" stroke="#3d3d3d" stroke-width="1.3"/>
<rect x="249.26" y="276" width="3.3" height="3.3" fill="#fff" stroke="#ff0000" stroke-width="1.3"/>
<line x1="262.96" x2="279.02" y1="277.65" y2="277.65" stroke="#3d3d3d" stroke-width="1.3"/>
<rect x="269.34" y="276" width="3.3" height="3.3" fill="#fff" stroke="#ff0000" stroke-width="1.3"/>
<line x1="291.06" x2="291.06" y1="232.75" y2="225.27" stroke="#3d3d3d" stroke-width="1.3"/>
<line x1="291.06" x2="291.06" y1="245.85" y2="255.2" stroke="#3d3d3d" stroke-width="1.3"/>
<rect x="283.03" y="232.75" width="16.06" height="13.1" fill="#d684bd" stroke="#3d3d3d" stroke-width="1.3"/>
<line x1="283.03" x2="299.09" y1="240.24" y2="240.24" stroke="#3d3d3d" stroke-width="1.3"/>
<line x1="286.4" x2="295.73" y1="225.27" y2="225.27" stroke="#3d3d3d" stroke-width="1.3"/>
<line x1="286.4" x2="295.73" y1="255.2" y2="255.2" stroke="#3d3d3d" stroke-width="1.3"/>
<rect x="289.41" y="237.09" width="3.3" height="3.3" fill="#fff" stroke="#ff0000" stroke-width="1.3"/>
<line x1="311.14" x2="311.14" y1="247.72" y2="240.24" stroke="#3d3d3d" stroke-width="1.3"/>
<rect x="303.11" y="247.72" width="16.06" height="7.48" fill="#3a923a" stroke="#3d3d3d" stroke-width="1.3"/>
<line x1="306.47" x2="315.8" y1="240.24" y2="240.24" stroke="#3d3d3d" stroke-width="1.3"/>
<rect x="309.49" y="247.56" width="3.3" height="3.3" fill="#fff" stroke="#ff0000" stroke-width="1.3"/>
<line x1="331.21" x2="331.21" y1="255.2" y2="247.72" stroke="#3d3d3d" stroke-width="1.3"/>
<rect x="323.18" y="255.2" width="16.06" height="7.48" fill="#9372b2" stroke="#3d3d3d" stroke-width="1.3"/>
<line x1="326.55" x2="335.88" y1="247.72" y2="247.72" stroke="#3d3d3d" stroke-width="1.3"/>
<rect x="329.56" y="254.3" width="3.3" height="3.3" fill="#fff" stroke="#ff0000" stroke-width="1.3"/>
<line x1="343.26" x2="359.32" y1="277.65" y2="277.65" stroke="#3d3d3d" stroke-width="1.3"/>
<rect x="349.64" y="276" width="3.3" height="3.3" fill="#fff" stroke="#ff0000" stroke-width="1.3"/>
<rect x="363.33" y="270.17" width="16.06" height="7.48" fill="#845b53" stroke="#3d3d3d" stroke-width="1.3"/>
<rect x="369.71" y="273.76" width="3.3" height="3.3" fill="#fff" stroke="#ff0000" stroke-width="1.3"/>
</g>
<clipPath id="clip12"><rect x="413.3" y="222.65" width="160.6" height="54.7"/></clipPath>
<line x1="413.3" x2="573.9" y1="277.65" y2="277.65" stroke="#cccccc" stroke-width="1"/>
<text x="405.8" y="281.55" class="tk">0</text>
<line x1="413.3" x2="573.9" y1="264.55" y2="264.55" stroke="#cccccc" stroke-width="1"/>
<text x="405.8" y="268.45" class="tk">2</text>
<line x1="413.3" x2="573.9" y1="251.46" y2="251.46" stroke="#cccccc" stroke-width="1"/>
<text x="405.8" y="255.36" class="tk">4</text>
<line x1="413.3" x2="573.9" y1="238.36" y2="238.36" stroke="#cccccc" stroke-width="1"/>
<text x="405.8" y="242.26" class="tk">6</text>
<line x1="413.3" x2="573.9" y1="225.27" y2="225.27" stroke="#cccccc" stroke-width="1"/>
<text x="405.8" y="229.17" class="tk">8</text>
<rect x="413.3" y="222.65" width="160.6" height="55" fill="none" stroke="#cccccc" stroke-width="1.25"/>
<text x="493.6" y="216.55" class="tt">infotocap</text>
<g clip-path="url(#clip12)">
<line x1="423.34" x2="423.34" y1="264.55" y2="258.01" stroke="#3d3d3d" stroke-width="1.3"/>
<line x1="423.34" x2="423.34" y1="271.1" y2="277.65" stroke="#3d3d3d" stroke-width="1.3"/>
<rect x="415.31" y="264.55" width="16.06" height="6.55" fill="#3274a1" stroke="#3d3d3d" stroke-width="1.3"/>
<line x1="418.67" x2="428" y1="258.01" y2="258.01" stroke="#3d3d3d" stroke-width="1.3"/>
<line x1="418.67" x2="428" y1="277.65" y2="277.65" stroke="#3d3d3d" stroke-width="1.3"/>
<rect x="421.69" y="264.54" width="3.3" height="3.3" fill="#fff" stroke="#ff0000" stroke-width="1.3"/>
<line x1="443.41" x2="443.41" y1="259.64" y2="258.01" stroke="#3d3d3d" stroke-width="1.3"/>
<line x1="443.41" x2="443.41" y1="264.55" y2="271.1" stroke="#3d3d3d" stroke-width="1.3"/>
<rect x="435.38" y="259.64" width="16.06" height="4.91" fill="#c03d3e" stroke="#3d3d3d" stroke-width="1.3"/>
<line x1="438.75" x2="448.08" y1="258.01" y2="258.01" stroke="#3d3d3d" stroke-width="1.3"/>
<line x1="438.75" x2="448.08" y1="271.1" y2="271.1" stroke="#3d3d3d" stroke-width="1.3"/>
<path d="M443.41 248.11L445.66 251.46L443.41 254.81L441.16 251.46Z" fill="#3d3d3d"/>
<rect x="441.76" y="262.64" width="3.3" height="3.3" fill="#fff" stroke="#ff0000" stroke-width="1.3"/>
<line x1="455.46" x2="471.52" y1="277.65" y2="277.65" stroke="#3d3d3d" stroke-width="1.3"/>
<rect x="461.84" y="276" width="3.3" height="3.3" fill="#fff" stroke="#ff0000" stroke-width="1.3"/>
<line x1="475.53" x2="491.59" y1="277.65" y2="277.65" stroke="#3d3d3d" stroke-width="1.3"/>
<path d="M483.56 267.75L485.81 271.1L483.56 274.45L481.31 271.1Z" fill="#3d3d3d"/>
<rect x="481.91" y="275.02" width="3.3" height="3.3" fill="#fff" stroke="#ff0000" stroke-width="1.3"/>
<line x1="503.64" x2="503.64" y1="238.36" y2="225.27" stroke="#3d3d3d" stroke-width="1.3"/>
<line x1="503.64" x2="503.64" y1="256.37" y2="258.01" stroke="#3d3d3d" stroke-width="1.3"/>
<rect x="495.61" y="238.36" width="16.06" height="18.01" fill="#3a923a" stroke="#3d3d3d" stroke-width="1.3"/>
<line x1="495.61" x2="511.67" y1="244.91" y2="244.91" stroke="#3d3d3d" stroke-width="1.3"/>
<line x1="498.97" x2="508.3" y1="225.27" y2="225.27" stroke="#3d3d3d" stroke-width="1.3"/>
<line x1="498.97" x2="508.3" y1="258.01" y2="258.01" stroke="#3d3d3d" stroke-width="1.3"/>
<rect x="501.99" y="245.23" width="3.3" height="3.3" fill="#fff" stroke="#ff0000" stroke-width="1.3"/>
<line x1="523.71" x2="523.71" y1="238.36" y2="231.82" stroke="#3d3d3d" stroke-width="1.3"/>
<line x1="523.71" x2="523.71" y1="251.46" y2="271.1" stroke="#3d3d3d" stroke-width="1.3"/>
<rect x="515.68" y="238.36" width="16.06" height="13.1" fill="#9372b2" stroke="#3d3d3d" stroke-width="1.3"/>
<line x1="515.68" x2="531.74" y1="248.84" y2="248.84" stroke="#3d3d3d" stroke-width="1.3"/>
<line x1="519.05" x2="528.38" y1="231.82" y2="231.82" stroke="#3d3d3d" stroke-width="1.3"/>
<line x1="519.05" x2="528.38" y1="271.1" y2="271.1" stroke="#3d3d3d" stroke-width="1.3"/>
<path d="M523.71 274.3L525.96 277.65L523.71 281L521.46 277.65Z" fill="#3d3d3d"/>
<rect x="522.06" y="247.85" width="3.3" height="3.3" fill="#fff" stroke="#ff0000" stroke-width="1.3"/>
<line x1="535.76" x2="551.82" y1="277.65" y2="277.65" stroke="#3d3d3d" stroke-width="1.3"/>
<rect x="542.14" y="276" width="3.3" height="3.3" fill="#fff" stroke="#ff0000" stroke-width="1.3"/>
<line x1="555.83" x2="571.89" y1="277.65" y2="277.65" stroke="#3d3d3d" stroke-width="1.3"/>
<path d="M563.86 267.75L566.11 271.1L563.86 274.45L561.61 271.1Z" fill="#3d3d3d"/>
<rect x="562.21" y="275.02" width="3.3" height="3.3" fill="#fff" stroke="#ff0000" stroke-width="1.3"/>
</g>
<clipPath id="clip13"><rect x="605.8" y="222.65" width="160.6" height="54.7"/></clipPath>
<line x1="605.8" x2="766.4" y1="277.65" y2="277.65" stroke="#cccccc" stroke-width="1"/>
<text x="598.3" y="281.55" class="tk">0.0</text>
<line x1="605.8" x2="766.4" y1="264.55" y2="264.55" stroke="#cccccc" stroke-width="1"/>
<text x="598.3" y="268.45" class="tk">0.5</text>
<line x1="605.8" x2="766.4" y1="251.46" y2="251.46" stroke="#cccccc" stroke-width="1"/>
<text x="598.3" y="255.36" class="tk">1.0</text>
<line x1="605.8" x2="766.4" y1="238.36" y2="238.36" stroke="#cccccc" stroke-width="1"/>
<text x="598.3" y="242.26" class="tk">1.5</text>
<line x1="605.8" x2="766.4" y1="225.27" y2="225.27" stroke="#cccccc" stroke-width="1"/>
<text x="598.3" y="229.17" class="tk">2.0</text>
<rect x="605.8" y="222.65" width="160.6" height="55" fill="none" stroke="#cccccc" stroke-width="1.25"/>
<text x="686.1" y="216.55" class="tt">jq</text>
<g clip-path="url(#clip13)">
<line x1="607.81" x2="623.87" y1="277.65" y2="277.65" stroke="#3d3d3d" stroke-width="1.3"/>
<rect x="614.19" y="276" width="3.3" height="3.3" fill="#fff" stroke="#ff0000" stroke-width="1.3"/>
<line x1="627.88" x2="643.94" y1="277.65" y2="277.65" stroke="#3d3d3d" stroke-width="1.3"/>
<rect x="634.26" y="276" width="3.3" height="3.3" fill="#fff" stroke="#ff0000" stroke-width="1.3"/>
<line x1="647.96" x2="664.02" y1="277.65" y2="277.65" stroke="#3d3d3d" stroke-width="1.3"/>
<rect x="654.34" y="276" width="3.3" height="3.3" fill="#fff" stroke="#ff0000" stroke-width="1.3"/>
<line x1="668.03" x2="684.09" y1="251.46" y2="251.46" stroke="#3d3d3d" stroke-width="1.3"/>
<path d="M676.06 221.92L678.31 225.27L676.06 228.62L673.81 225.27Z" fill="#3d3d3d"/>
<rect x="674.41" y="246.4" width="3.3" height="3.3" fill="#fff" stroke="#ff0000" stroke-width="1.3"/>
<line x1="688.11" x2="704.17" y1="277.65" y2="277.65" stroke="#3d3d3d" stroke-width="1.3"/>
<rect x="694.49" y="276" width="3.3" height="3.3" fill="#fff" stroke="#ff0000" stroke-width="1.3"/>
<line x1="708.18" x2="724.24" y1="225.27" y2="225.27" stroke="#3d3d3d" stroke-width="1.3"/>
<rect x="714.56" y="223.62" width="3.3" height="3.3" fill="#fff" stroke="#ff0000" stroke-width="1.3"/>
<line x1="728.26" x2="744.32" y1="277.65" y2="277.65" stroke="#3d3d3d" stroke-width="1.3"/>
<rect x="734.64" y="276" width="3.3" height="3.3" fill="#fff" stroke="#ff0000" stroke-width="1.3"/>
<line x1="748.33" x2="764.39" y1="277.65" y2="277.65" stroke="#3d3d3d" stroke-width="1.3"/>
<rect x="754.71" y="276" width="3.3" height="3.3" fill="#fff" stroke="#ff0000" stroke-width="1.3"/>
</g>
<clipPath id="clip14"><rect x="798.3" y="222.65" width="160.6" height="54.7"/></clipPath>
<line x1="798.3" x2="958.9" y1="277.65" y2="277.65" stroke="#cccccc" stroke-width="1"/>
<text x="790.8" y="281.55" class="tk">0.0</text>
<line x1="798.3" x2="958.9" y1="264.55" y2="264.55" stroke="#cccccc" stroke-width="1"/>
<text x="790.8" y="268.45" class="tk">0.5</text>
<line x1="798.3" x2="958.9" y1="251.46" y2="251.46" stroke="#cccccc" stroke-width="1"/>
<text x="790.8" y="255.36" class="tk">1.0</text>
<line x1="798.3" x2="958.9" y1="238.36" y2="238.36" stroke="#cccccc" stroke-width="1"/>
<text x="790.8" y="242.26" class="tk">1.5</text>
<line x1="798.3" x2="958.9" y1="225.27" y2="225.27" stroke="#cccccc" stroke-width="1"/>
<text x="790.8" y="229.17" class="tk">2.0</text>
<rect x="798.3" y="222.65" width="160.6" height="55" fill="none" stroke="#cccccc" stroke-width="1.25"/>
<text x="878.6" y="216.55" class="tt">mujs</text>
<g clip-path="url(#clip14)">
<line x1="800.31" x2="816.37" y1="277.65" y2="277.65" stroke="#3d3d3d" stroke-width="1.3"/>
<rect x="806.69" y="276" width="3.3" height="3.3" fill="#fff" stroke="#ff0000" stroke-width="1.3"/>
<line x1="820.38" x2="836.44" y1="277.65" y2="277.65" stroke="#3d3d3d" stroke-width="1.3"/>
<path d="M828.41 248.11L830.66 251.46L828.41 254.81L826.16 251.46Z" fill="#3d3d3d"/>
<rect x="826.76" y="273.64" width="3.3" height="3.3" fill="#fff" stroke="#ff0000" stroke-width="1.3"/>
<line x1="840.46" x2="856.52" y1="277.65" y2="277.65" stroke="#3d3d3d" stroke-width="1.3"/>
<rect x="846.84" y="276" width="3.3" height="3.3" fill="#fff" stroke="#ff0000" stroke-width="1.3"/>
<line x1="860.53" x2="876.59" y1="277.65" y2="277.65" stroke="#3d3d3d" stroke-width="1.3"/>
<path d="M868.56 248.11L870.81 251.46L868.56 254.81L866.31 251.46Z" fill="#3d3d3d"/>
<rect x="866.91" y="273.64" width="3.3" height="3.3" fill="#fff" stroke="#ff0000" stroke-width="1.3"/>
<line x1="880.61" x2="896.67" y1="277.65" y2="277.65" stroke="#3d3d3d" stroke-width="1.3"/>
<path d="M888.64 248.11L890.89 251.46L888.64 254.81L886.39 251.46Z" fill="#3d3d3d"/>
<rect x="886.99" y="272.07" width="3.3" height="3.3" fill="#fff" stroke="#ff0000" stroke-width="1.3"/>
<line x1="900.68" x2="916.74" y1="251.46" y2="251.46" stroke="#3d3d3d" stroke-width="1.3"/>
<path d="M908.71 221.92L910.96 225.27L908.71 228.62L906.46 225.27Z" fill="#3d3d3d"/>
<rect x="907.06" y="247.45" width="3.3" height="3.3" fill="#fff" stroke="#ff0000" stroke-width="1.3"/>
<line x1="920.76" x2="936.82" y1="277.65" y2="277.65" stroke="#3d3d3d" stroke-width="1.3"/>
<rect x="927.14" y="276" width="3.3" height="3.3" fill="#fff" stroke="#ff0000" stroke-width="1.3"/>
<line x1="940.83" x2="956.89" y1="277.65" y2="277.65" stroke="#3d3d3d" stroke-width="1.3"/>
<rect x="947.21" y="276" width="3.3" height="3.3" fill="#fff" stroke="#ff0000" stroke-width="1.3"/>
</g>
<clipPath id="clip15"><rect x="28.2" y="302.65" width="160.6" height="54.7"/></clipPath>
<line x1="28.2" x2="188.8" y1="357.65" y2="357.65" stroke="#cccccc" stroke-width="1"/>
<text x="20.7" y="361.55" class="tk">0</text>
<line x1="28.2" x2="188.8" y1="346.43" y2="346.43" stroke="#cccccc" stroke-width="1"/>
<text x="20.7" y="350.33" class="tk">3</text>
<line x1="28.2" x2="188.8" y1="335.2" y2="335.2" stroke="#cccccc" stroke-width="1"/>
<text x="20.7" y="339.1" class="tk">6</text>
<line x1="28.2" x2="188.8" y1="323.98" y2="323.98" stroke="#cccccc" stroke-width="1"/>
<text x="20.7" y="327.88" class="tk">9</text>
<line x1="28.2" x2="188.8" y1="312.75" y2="312.75" stroke="#cccccc" stroke-width="1"/>
<text x="20.7" y="316.65" class="tk">12</text>
<rect x="28.2" y="302.65" width="160.6" height="55" fill="none" stroke="#cccccc" stroke-width="1.25"/>
<text x="108.5" y="296.55" class="tt">pdftotext</text>
<g clip-path="url(#clip15)">
<line x1="38.24" x2="38.24" y1="354.84" y2="353.91" stroke="#3d3d3d" stroke-width="1.3"/>
<rect x="30.21" y="354.84" width="16.06" height="2.81" fill="#3274a1" stroke="#3d3d3d" stroke-width="1.3"/>
<line x1="33.57" x2="42.9" y1="353.91" y2="353.91" stroke="#3d3d3d" stroke-width="1.3"/>
<path d="M38.24 346.82L40.49 350.17L38.24 353.52L35.99 350.17Z" fill="#3d3d3d"/>
<rect x="36.59" y="354.5" width="3.3" height="3.3" fill="#fff" stroke="#ff0000" stroke-width="1.3"/>
<line x1="58.31" x2="58.31" y1="353.91" y2="350.17" stroke="#3d3d3d" stroke-width="1.3"/>
<rect x="50.28" y="353.91" width="16.06" height="3.74" fill="#c03d3e" stroke="#3d3d3d" stroke-width="1.3"/>
<line x1="53.65" x2="62.98" y1="350.17" y2="350.17" stroke="#3d3d3d" stroke-width="1.3"/>
<rect x="56.66" y="353.76" width="3.3" height="3.3" fill="#fff" stroke="#ff0000" stroke-width="1.3"/>
<line x1="70.36" x2="86.42" y1="353.91" y2="353.91" stroke="#3d3d3d" stroke-width="1.3"/>
<rect x="76.74" y="352.26" width="3.3" height="3.3" fill="#fff" stroke="#ff0000" stroke-width="1.3"/>
<line x1="98.46" x2="98.46" y1="351.1" y2="346.43" stroke="#3d3d3d" stroke-width="1.3"/>
<rect x="90.43" y="351.1" width="16.06" height="6.55" fill="#d684bd" stroke="#3d3d3d" stroke-width="1.3"/>
<line x1="90.43" x2="106.49" y1="355.78" y2="355.78" stroke="#3d3d3d" stroke-width="1.3"/>
<line x1="93.8" x2="103.13" y1="346.43" y2="346.43" stroke="#3d3d3d" stroke-width="1.3"/>
<rect x="96.81" y="352.82" width="3.3" height="3.3" fill="#fff" stroke="#ff0000" stroke-width="1.3"/>
<line x1="118.54" x2="118.54" y1="316.49" y2="305.27" stroke="#3d3d3d" stroke-width="1.3"/>
<line x1="118.54" x2="118.54" y1="342.68" y2="346.43" stroke="#3d3d3d" stroke-width="1.3"/>
<rect x="110.51" y="316.49" width="16.06" height="26.19" fill="#3a923a" stroke="#3d3d3d" stroke-width="1.3"/>
<line x1="110.51" x2="126.57" y1="337.07" y2="337.07" stroke="#3d3d3d" stroke-width="1.3"/>
<line x1="113.87" x2="123.2" y1="305.27" y2="305.27" stroke="#3d3d3d" stroke-width="1.3"/>
<line x1="113.87" x2="123.2" y1="346.43" y2="346.43" stroke="#3d3d3d" stroke-width="1.3"/>
<rect x="116.89" y="328.69" width="3.3" height="3.3" fill="#fff" stroke="#ff0000" stroke-width="1.3"/>
<line x1="138.61" x2="138.61" y1="346.43" y2="342.68" stroke="#3d3d3d" stroke-width="1.3"/>
<line x1="138.61" x2="138.61" y1="350.17" y2="353.91" stroke="#3d3d3d" stroke-width="1.3"/>
<rect x="130.58" y="346.43" width="16.06" height="3.74" fill="#9372b2" stroke="#3d3d3d" stroke-width="1.3"/>
<line x1="133.95" x2="143.28" y1="342.68" y2="342.68" stroke="#3d3d3d" stroke-width="1.3"/>
<line x1="133.95" x2="143.28" y1="353.91" y2="353.91" stroke="#3d3d3d" stroke-width="1.3"/>
<rect x="136.96" y="348.52" width="3.3" height="3.3" fill="#fff" stroke="#ff0000" stroke-width="1.3"/>
<line x1="150.66" x2="166.72" y1="357.65" y2="357.65" stroke="#3d3d3d" stroke-width="1.3"/>
<rect x="157.04" y="356" width="3.3" height="3.3" fill="#fff" stroke="#ff0000" stroke-width="1.3"/>
<line x1="170.73" x2="186.79" y1="357.65" y2="357.65" stroke="#3d3d3d" stroke-width="1.3"/>
<rect x="177.11" y="356" width="3.3" height="3.3" fill="#fff" stroke="#ff0000" stroke-width="1.3"/>
</g>
<clipPath id="clip16"><rect x="220.8" y="302.65" width="160.6" height="54.7"/></clipPath>
<line x1="220.8" x2="381.4" y1="357.65" y2="357.65" stroke="#cccccc" stroke-width="1"/>
<text x="213.3" y="361.55" class="tk">0.0</text>
<line x1="220.8" x2="381.4" y1="341.94" y2="341.94" stroke="#cccccc" stroke-width="1"/>
<text x="213.3" y="345.84" class="tk">1.5</text>
<line x1="220.8" x2="381.4" y1="326.22" y2="326.22" stroke="#cccccc" stroke-width="1"/>
<text x="213.3" y="330.12" class="tk">3.0</text>
<line x1="220.8" x2="381.4" y1="310.51" y2="310.51" stroke="#cccccc" stroke-width="1"/>
<text x="213.3" y="314.41" class="tk">4.5</text>
<rect x="220.8" y="302.65" width="160.6" height="55" fill="none" stroke="#cccccc" stroke-width="1.25"/>
<text x="301.1" y="296.55" class="tt">sqlite3</text>
<g clip-path="url(#clip16)">
<line x1="222.81" x2="238.87" y1="357.65" y2="357.65" stroke="#3d3d3d" stroke-width="1.3"/>
<rect x="229.19" y="356" width="3.3" height="3.3" fill="#fff" stroke="#ff0000" stroke-width="1.3"/>
<line x1="242.88" x2="258.94" y1="357.65" y2="357.65" stroke="#3d3d3d" stroke-width="1.3"/>
<rect x="249.26" y="356" width="3.3" height="3.3" fill="#fff" stroke="#ff0000" stroke-width="1.3"/>
<line x1="262.96" x2="279.02" y1="357.65" y2="357.65" stroke="#3d3d3d" stroke-width="1.3"/>
<rect x="269.34" y="356" width="3.3" height="3.3" fill="#fff" stroke="#ff0000" stroke-width="1.3"/>
<rect x="283.03" y="347.17" width="16.06" height="10.48" fill="#d684bd" stroke="#3d3d3d" stroke-width="1.3"/>
<rect x="289.41" y="351.6" width="3.3" height="3.3" fill="#fff" stroke="#ff0000" stroke-width="1.3"/>
<line x1="311.14" x2="311.14" y1="315.75" y2="305.27" stroke="#3d3d3d" stroke-width="1.3"/>
<line x1="311.14" x2="311.14" y1="326.22" y2="336.7" stroke="#3d3d3d" stroke-width="1.3"/>
<rect x="303.11" y="315.75" width="16.06" height="10.48" fill="#3a923a" stroke="#3d3d3d" stroke-width="1.3"/>
<line x1="303.11" x2="319.17" y1="320.98" y2="320.98" stroke="#3d3d3d" stroke-width="1.3"/>
<line x1="306.47" x2="315.8" y1="305.27" y2="305.27" stroke="#3d3d3d" stroke-width="1.3"/>
<line x1="306.47" x2="315.8" y1="336.7" y2="336.7" stroke="#3d3d3d" stroke-width="1.3"/>
<path d="M311.14 343.82L313.39 347.17L311.14 350.52L308.89 347.17Z" fill="#3d3d3d"/>
<rect x="309.49" y="319.86" width="3.3" height="3.3" fill="#fff" stroke="#ff0000" stroke-width="1.3"/>
<line x1="331.21" x2="331.21" y1="315.75" y2="305.27" stroke="#3d3d3d" stroke-width="1.3"/>
<line x1="331.21" x2="331.21" y1="347.17" y2="357.65" stroke="#3d3d3d" stroke-width="1.3"/>
<rect x="323.18" y="315.75" width="16.06" height="31.43" fill="#9372b2" stroke="#3d3d3d" stroke-width="1.3"/>
<line x1="323.18" x2="339.24" y1="326.22" y2="326.22" stroke="#3d3d3d" stroke-width="1.3"/>
<line x1="326.55" x2="335.88" y1="305.27" y2="305.27" stroke="#3d3d3d" stroke-width="1.3"/>
<line x1="326.55" x2="335.88" y1="357.65" y2="357.65" stroke="#3d3d3d" stroke-width="1.3"/>
<rect x="329.56" y="330.33" width="3.3" height="3.3" fill="#fff" stroke="#ff0000" stroke-width="1.3"/>
<line x1="343.26" x2="359.32" y1="357.65" y2="357.65" stroke="#3d3d3d" stroke-width="1.3"/>
<rect x="349.64" y="356" width="3.3" height="3.3" fill="#fff" stroke="#ff0000" stroke-width="1.3"/>
<line x1="363.33" x2="379.39" y1="357.65" y2="357.65" stroke="#3d3d3d" stroke-width="1.3"/>
<rect x="369.71" y="356" width="3.3" height="3.3" fill="#fff" stroke="#ff0000" stroke-width="1.3"/>
</g>
<clipPath id="clip17"><rect x="413.3" y="302.65" width="160.6" height="54.7"/></clipPath>
<line x1="413.3" x2="573.9" y1="357.65" y2="357.65" stroke="#cccccc" stroke-width="1"/>
<text x="405.8" y="361.55" class="tk">0.0</text>
<line x1="413.3" x2="573.9" y1="341.94" y2="341.94" stroke="#cccccc" stroke-width="1"/>
<text x="405.8" y="345.84" class="tk">1.5</text>
<line x1="413.3" x2="573.9" y1="326.22" y2="326.22" stroke="#cccccc" stroke-width="1"/>
<text x="405.8" y="330.12" class="tk">3.0</text>
<line x1="413.3" x2="573.9" y1="310.51" y2="310.51" stroke="#cccccc" stroke-width="1"/>
<text x="405.8" y="314.41" class="tk">4.5</text>
<rect x="413.3" y="302.65" width="160.6" height="55" fill="none" stroke="#cccccc" stroke-width="1.25"/>
<text x="493.6" y="296.55" class="tt">nm</text>
<g clip-path="url(#clip17)">
<line x1="415.31" x2="431.37" y1="357.65" y2="357.65" stroke="#3d3d3d" stroke-width="1.3"/>
<rect x="421.69" y="356" width="3.3" height="3.3" fill="#fff" stroke="#ff0000" stroke-width="1.3"/>
<line x1="435.38" x2="451.44" y1="357.65" y2="357.65" stroke="#3d3d3d" stroke-width="1.3"/>
<rect x="441.76" y="356" width="3.3" height="3.3" fill="#fff" stroke="#ff0000" stroke-width="1.3"/>
<line x1="463.49" x2="463.49" y1="318.36" y2="305.27" stroke="#3d3d3d" stroke-width="1.3"/>
<line x1="463.49" x2="463.49" y1="347.17" y2="357.65" stroke="#3d3d3d" stroke-width="1.3"/>
<rect x="455.46" y="318.36" width="16.06" height="28.81" fill="#e1812c" stroke="#3d3d3d" stroke-width="1.3"/>
<line x1="455.46" x2="471.52" y1="336.7" y2="336.7" stroke="#3d3d3d" stroke-width="1.3"/>
<line x1="458.82" x2="468.15" y1="305.27" y2="305.27" stroke="#3d3d3d" stroke-width="1.3"/>
<line x1="458.82" x2="468.15" y1="357.65" y2="357.65" stroke="#3d3d3d" stroke-width="1.3"/>
<rect x="461.84" y="332.64" width="3.3" height="3.3" fill="#fff" stroke="#ff0000" stroke-width="1.3"/>
<line x1="475.53" x2="491.59" y1="357.65" y2="357.65" stroke="#3d3d3d" stroke-width="1.3"/>
<rect x="481.91" y="356" width="3.3" height="3.3" fill="#fff" stroke="#ff0000" stroke-width="1.3"/>
<line x1="495.61" x2="511.67" y1="357.65" y2="357.65" stroke="#3d3d3d" stroke-width="1.3"/>
<rect x="501.99" y="356" width="3.3" height="3.3" fill="#fff" stroke="#ff0000" stroke-width="1.3"/>
<line x1="515.68" x2="531.74" y1="357.65" y2="357.65" stroke="#3d3d3d" stroke-width="1.3"/>
<rect x="522.06" y="356" width="3.3" height="3.3" fill="#fff" stroke="#ff0000" stroke-width="1.3"/>
<line x1="535.76" x2="551.82" y1="357.65" y2="357.65" stroke="#3d3d3d" stroke-width="1.3"/>
<rect x="542.14" y="356" width="3.3" height="3.3" fill="#fff" stroke="#ff0000" stroke-width="1.3"/>
<line x1="555.83" x2="571.89" y1="357.65" y2="357.65" stroke="#3d3d3d" stroke-width="1.3"/>
<rect x="562.21" y="356" width="3.3" height="3.3" fill="#fff" stroke="#ff0000" stroke-width="1.3"/>
</g>
<clipPath id="clip18"><rect x="605.8" y="302.65" width="160.6" height="54.7"/></clipPath>
<line x1="605.8" x2="766.4" y1="357.65" y2="357.65" stroke="#cccccc" stroke-width="1"/>
<text x="598.3" y="361.55" class="tk">0</text>
<line x1="605.8" x2="766.4" y1="345.56" y2="345.56" stroke="#cccccc" stroke-width="1"/>
<text x="598.3" y="349.46" class="tk">3</text>
<line x1="605.8" x2="766.4" y1="333.47" y2="333.47" stroke="#cccccc" stroke-width="1"/>
<text x="598.3" y="337.37" class="tk">6</text>
<line x1="605.8" x2="766.4" y1="321.39" y2="321.39" stroke="#cccccc" stroke-width="1"/>
<text x="598.3" y="325.29" class="tk">9</text>
<line x1="605.8" x2="766.4" y1="309.3" y2="309.3" stroke="#cccccc" stroke-width="1"/>
<text x="598.3" y="313.2" class="tk">12</text>
<rect x="605.8" y="302.65" width="160.6" height="55" fill="none" stroke="#cccccc" stroke-width="1.25"/>
<text x="686.1" y="296.55" class="tt">objdump</text>
<g clip-path="url(#clip18)">
<line x1="607.81" x2="623.87" y1="353.62" y2="353.62" stroke="#3d3d3d" stroke-width="1.3"/>
<path d="M615.84 342.21L618.09 345.56L615.84 348.91L613.59 345.56Z" fill="#3d3d3d"/>
<rect x="614.19" y="351.04" width="3.3" height="3.3" fill="#fff" stroke="#ff0000" stroke-width="1.3"/>
<line x1="627.88" x2="643.94" y1="353.62" y2="353.62" stroke="#3d3d3d" stroke-width="1.3"/>
<path d="M635.91 342.21L638.16 345.56L635.91 348.91L633.66 345.56Z" fill="#3d3d3d"/>
<rect x="634.26" y="351.04" width="3.3" height="3.3" fill="#fff" stroke="#ff0000" stroke-width="1.3"/>
<line x1="655.99" x2="655.99" y1="333.47" y2="313.33" stroke="#3d3d3d" stroke-width="1.3"/>
<line x1="655.99" x2="655.99" y1="348.58" y2="353.62" stroke="#3d3d3d" stroke-width="1.3"/>
<rect x="647.96" y="333.47" width="16.06" height="15.11" fill="#e1812c" stroke="#3d3d3d" stroke-width="1.3"/>
<line x1="647.96" x2="664.02" y1="345.56" y2="345.56" stroke="#3d3d3d" stroke-width="1.3"/>
<line x1="651.32" x2="660.65" y1="313.33" y2="313.33" stroke="#3d3d3d" stroke-width="1.3"/>
<line x1="651.32" x2="660.65" y1="353.62" y2="353.62" stroke="#3d3d3d" stroke-width="1.3"/>
<path d="M655.99 305.95L658.24 309.3L655.99 312.65L653.74 309.3Z" fill="#3d3d3d"/>
<path d="M655.99 301.92L658.24 305.27L655.99 308.62L653.74 305.27Z" fill="#3d3d3d"/>
<rect x="654.34" y="336.66" width="3.3" height="3.3" fill="#fff" stroke="#ff0000" stroke-width="1.3"/>
<line x1="676.06" x2="676.06" y1="353.62" y2="349.59" stroke="#3d3d3d" stroke-width="1.3"/>
<rect x="668.03" y="353.62" width="16.06" height="4.03" fill="#d684bd" stroke="#3d3d3d" stroke-width="1.3"/>
<line x1="671.4" x2="680.73" y1="349.59" y2="349.59" stroke="#3d3d3d" stroke-width="1.3"/>
<rect x="674.41" y="353.58" width="3.3" height="3.3" fill="#fff" stroke="#ff0000" stroke-width="1.3"/>
<line x1="696.14" x2="696.14" y1="329.44" y2="321.39" stroke="#3d3d3d" stroke-width="1.3"/>
<line x1="696.14" x2="696.14" y1="337.5" y2="345.56" stroke="#3d3d3d" stroke-width="1.3"/>
<rect x="688.11" y="329.44" width="16.06" height="8.06" fill="#3a923a" stroke="#3d3d3d" stroke-width="1.3"/>
<line x1="688.11" x2="704.17" y1="333.47" y2="333.47" stroke="#3d3d3d" stroke-width="1.3"/>
<line x1="691.47" x2="700.8" y1="321.39" y2="321.39" stroke="#3d3d3d" stroke-width="1.3"/>
<line x1="691.47" x2="700.8" y1="345.56" y2="345.56" stroke="#3d3d3d" stroke-width="1.3"/>
<path d="M696.14 309.98L698.39 313.33L696.14 316.68L693.89 313.33Z" fill="#3d3d3d"/>
<rect x="694.49" y="331.82" width="3.3" height="3.3" fill="#fff" stroke="#ff0000" stroke-width="1.3"/>
<line x1="716.21" x2="716.21" y1="349.59" y2="345.56" stroke="#3d3d3d" stroke-width="1.3"/>
<line x1="716.21" x2="716.21" y1="353.62" y2="357.65" stroke="#3d3d3d" stroke-width="1.3"/>
<rect x="708.18" y="349.59" width="16.06" height="4.03" fill="#9372b2" stroke="#3d3d3d" stroke-width="1.3"/>
<line x1="708.18" x2="724.24" y1="351.61" y2="351.61" stroke="#3d3d3d" stroke-width="1.3"/>
<line x1="711.55" x2="720.88" y1="345.56" y2="345.56" stroke="#3d3d3d" stroke-width="1.3"/>
<line x1="711.55" x2="720.88" y1="357.65" y2="357.65" stroke="#3d3d3d" stroke-width="1.3"/>
<path d="M716.21 338.18L718.46 341.53L716.21 344.88L713.96 341.53Z" fill="#3d3d3d"/>
<rect x="714.56" y="349.55" width="3.3" height="3.3" fill="#fff" stroke="#ff0000" stroke-width="1.3"/>
<line x1="728.26" x2="744.32" y1="353.62" y2="353.62" stroke="#3d3d3d" stroke-width="1.3"/>
<rect x="734.64" y="351.97" width="3.3" height="3.3" fill="#fff" stroke="#ff0000" stroke-width="1.3"/>
<line x1="748.33" x2="764.39" y1="357.65" y2="357.65" stroke="#3d3d3d" stroke-width="1.3"/>
<rect x="754.71" y="356" width="3.3" height="3.3" fill="#fff" stroke="#ff0000" stroke-width="1.3"/>
</g>
<clipPath id="clip19"><rect x="798.3" y="302.65" width="160.6" height="54.7"/></clipPath>
<line x1="798.3" x2="958.9" y1="357.65" y2="357.65" stroke="#cccccc" stroke-width="1"/>
<text x="790.8" y="361.55" class="tk">0</text>
<line x1="798.3" x2="958.9" y1="341.28" y2="341.28" stroke="#cccccc" stroke-width="1"/>
<text x="790.8" y="345.18" class="tk">15</text>
<line x1="798.3" x2="958.9" y1="324.91" y2="324.91" stroke="#cccccc" stroke-width="1"/>
<text x="790.8" y="328.81" class="tk">30</text>
<line x1="798.3" x2="958.9" y1="308.54" y2="308.54" stroke="#cccccc" stroke-width="1"/>
<text x="790.8" y="312.44" class="tk">45</text>
<rect x="798.3" y="302.65" width="160.6" height="55" fill="none" stroke="#cccccc" stroke-width="1.25"/>
<text x="878.6" y="296.55" class="tt">tcpdump</text>
<g clip-path="url(#clip19)">
<line x1="800.31" x2="816.37" y1="357.65" y2="357.65" stroke="#3d3d3d" stroke-width="1.3"/>
<rect x="806.69" y="356" width="3.3" height="3.3" fill="#fff" stroke="#ff0000" stroke-width="1.3"/>
<line x1="820.38" x2="836.44" y1="357.65" y2="357.65" stroke="#3d3d3d" stroke-width="1.3"/>
<rect x="826.76" y="356" width="3.3" height="3.3" fill="#fff" stroke="#ff0000" stroke-width="1.3"/>
<line x1="848.49" x2="848.49" y1="354.38" y2="353.28" stroke="#3d3d3d" stroke-width="1.3"/>
<rect x="840.46" y="354.38" width="16.06" height="2.18" fill="#e1812c" stroke="#3d3d3d" stroke-width="1.3"/>
<line x1="843.82" x2="853.15" y1="353.29" y2="353.29" stroke="#3d3d3d" stroke-width="1.3"/>
<rect x="846.84" y="354.25" width="3.3" height="3.3" fill="#fff" stroke="#ff0000" stroke-width="1.3"/>
<line x1="860.53" x2="876.59" y1="357.65" y2="357.65" stroke="#3d3d3d" stroke-width="1.3"/>
<rect x="866.91" y="356" width="3.3" height="3.3" fill="#fff" stroke="#ff0000" stroke-width="1.3"/>
<rect x="880.61" y="355.47" width="16.06" height="2.18" fill="#3a923a" stroke="#3d3d3d" stroke-width="1.3"/>
<path d="M888.64 349.93L890.89 353.28L888.64 356.63L886.39 353.28Z" fill="#3d3d3d"/>
<rect x="886.99" y="354.04" width="3.3" height="3.3" fill="#fff" stroke="#ff0000" stroke-width="1.3"/>
<line x1="908.71" x2="908.71" y1="317.27" y2="305.27" stroke="#3d3d3d" stroke-width="1.3"/>
<line x1="908.71" x2="908.71" y1="330.37" y2="343.46" stroke="#3d3d3d" stroke-width="1.3"/>
<rect x="900.68" y="317.27" width="16.06" height="13.1" fill="#9372b2" stroke="#3d3d3d" stroke-width="1.3"/>
<line x1="900.68" x2="916.74" y1="321.09" y2="321.09" stroke="#3d3d3d" stroke-width="1.3"/>
<line x1="904.05" x2="913.38" y1="305.27" y2="305.27" stroke="#3d3d3d" stroke-width="1.3"/>
<line x1="904.05" x2="913.38" y1="343.46" y2="343.46" stroke="#3d3d3d" stroke-width="1.3"/>
<rect x="907.06" y="322.17" width="3.3" height="3.3" fill="#fff" stroke="#ff0000" stroke-width="1.3"/>
<line x1="920.76" x2="936.82" y1="357.65" y2="357.65" stroke="#3d3d3d" stroke-width="1.3"/>
<rect x="927.14" y="356" width="3.3" height="3.3" fill="#fff" stroke="#ff0000" stroke-width="1.3"/>
<line x1="940.83" x2="956.89" y1="357.65" y2="357.65" stroke="#3d3d3d" stroke-width="1.3"/>
<rect x="947.21" y="356" width="3.3" height="3.3" fill="#fff" stroke="#ff0000" stroke-width="1.3"/>
</g>
<rect x="59.2" y="9.3" width="869.2" height="23.4" rx="3" ry="3" fill="#fff" stroke="#cfcfcf" stroke-width="1.1"/>
<rect x="64" y="15.1" width="27.3" height="9.7" fill="#3274a1"/>
<text x="102.6" y="24.1" class="lg">AFL</text>
<rect x="154.2" y="15.1" width="27.3" height="9.7" fill="#c03d3e"/>
<text x="192.8" y="24.1" class="lg">AFLFast</text>
<rect x="270.2" y="15.1" width="27.3" height="9.7" fill="#e1812c"/>
<text x="308.8" y="24.1" class="lg">Angora</text>
<rect x="379" y="15.1" width="27.3" height="9.7" fill="#d684bd"/>
<text x="417.6" y="24.1" class="lg">Honggfuzz</text>
<rect x="509" y="15.1" width="27.3" height="9.7" fill="#3a923a"/>
<text x="547.6" y="24.1" class="lg">MOPT</text>
<rect x="613" y="15.1" width="27.3" height="9.7" fill="#9372b2"/>
<text x="651.6" y="24.1" class="lg">QSYM</text>
<rect x="718" y="15.1" width="27.3" height="9.7" fill="#2eabb8"/>
<text x="756.6" y="24.1" class="lg">T-Fuzz</text>
<rect x="825.2" y="15.1" width="27.3" height="9.7" fill="#845b53"/>
<text x="863.8" y="24.1" class="lg">VUzzer64</text>
</svg>
</body></html>
